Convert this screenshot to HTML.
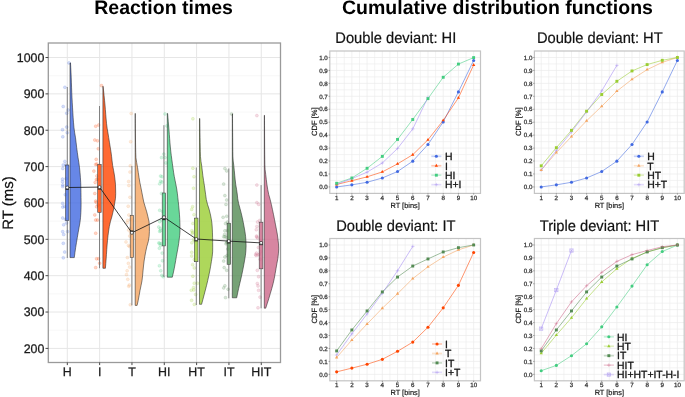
<!DOCTYPE html>
<html><head><meta charset="utf-8"><title>Reaction times and CDFs</title>
<style>html,body{margin:0;padding:0;background:#fff;}body{width:685px;height:397px;overflow:hidden;}svg{display:block;}</style>
</head><body>
<svg width="685" height="397" viewBox="0 0 685 397" text-rendering="geometricPrecision" font-family='"Liberation Sans", Arial, sans-serif'><rect x="48.3" y="43.0" width="232.2" height="319.5" fill="#fff"/>
<line x1="48.3" x2="280.5" y1="330.22" y2="330.22" stroke="#f1f1f1" stroke-width="0.6"/>
<line x1="48.3" x2="280.5" y1="293.86" y2="293.86" stroke="#f1f1f1" stroke-width="0.6"/>
<line x1="48.3" x2="280.5" y1="257.50" y2="257.50" stroke="#f1f1f1" stroke-width="0.6"/>
<line x1="48.3" x2="280.5" y1="221.14" y2="221.14" stroke="#f1f1f1" stroke-width="0.6"/>
<line x1="48.3" x2="280.5" y1="184.78" y2="184.78" stroke="#f1f1f1" stroke-width="0.6"/>
<line x1="48.3" x2="280.5" y1="148.42" y2="148.42" stroke="#f1f1f1" stroke-width="0.6"/>
<line x1="48.3" x2="280.5" y1="112.06" y2="112.06" stroke="#f1f1f1" stroke-width="0.6"/>
<line x1="48.3" x2="280.5" y1="75.70" y2="75.70" stroke="#f1f1f1" stroke-width="0.6"/>
<line x1="48.3" x2="280.5" y1="348.40" y2="348.40" stroke="#e6e6e6" stroke-width="1"/>
<line x1="48.3" x2="280.5" y1="312.04" y2="312.04" stroke="#e6e6e6" stroke-width="1"/>
<line x1="48.3" x2="280.5" y1="275.68" y2="275.68" stroke="#e6e6e6" stroke-width="1"/>
<line x1="48.3" x2="280.5" y1="239.32" y2="239.32" stroke="#e6e6e6" stroke-width="1"/>
<line x1="48.3" x2="280.5" y1="202.96" y2="202.96" stroke="#e6e6e6" stroke-width="1"/>
<line x1="48.3" x2="280.5" y1="166.60" y2="166.60" stroke="#e6e6e6" stroke-width="1"/>
<line x1="48.3" x2="280.5" y1="130.24" y2="130.24" stroke="#e6e6e6" stroke-width="1"/>
<line x1="48.3" x2="280.5" y1="93.88" y2="93.88" stroke="#e6e6e6" stroke-width="1"/>
<line x1="48.3" x2="280.5" y1="57.52" y2="57.52" stroke="#e6e6e6" stroke-width="1"/>
<line x1="67.30" x2="67.30" y1="43.0" y2="362.5" stroke="#e6e6e6" stroke-width="1"/>
<line x1="99.63" x2="99.63" y1="43.0" y2="362.5" stroke="#e6e6e6" stroke-width="1"/>
<line x1="131.96" x2="131.96" y1="43.0" y2="362.5" stroke="#e6e6e6" stroke-width="1"/>
<line x1="164.29" x2="164.29" y1="43.0" y2="362.5" stroke="#e6e6e6" stroke-width="1"/>
<line x1="196.62" x2="196.62" y1="43.0" y2="362.5" stroke="#e6e6e6" stroke-width="1"/>
<line x1="228.95" x2="228.95" y1="43.0" y2="362.5" stroke="#e6e6e6" stroke-width="1"/>
<line x1="261.28" x2="261.28" y1="43.0" y2="362.5" stroke="#e6e6e6" stroke-width="1"/>
<circle cx="69.0" cy="62.9" r="1.5" fill="#4169E1" fill-opacity="0.22" stroke="#4169E1" stroke-opacity="0.3" stroke-width="0.5"/>
<circle cx="64.9" cy="87.3" r="1.5" fill="#4169E1" fill-opacity="0.22" stroke="#4169E1" stroke-opacity="0.3" stroke-width="0.5"/>
<circle cx="63.2" cy="106.5" r="1.5" fill="#4169E1" fill-opacity="0.22" stroke="#4169E1" stroke-opacity="0.3" stroke-width="0.5"/>
<circle cx="68.1" cy="110.0" r="1.5" fill="#4169E1" fill-opacity="0.22" stroke="#4169E1" stroke-opacity="0.3" stroke-width="0.5"/>
<circle cx="66.7" cy="113.2" r="1.5" fill="#4169E1" fill-opacity="0.22" stroke="#4169E1" stroke-opacity="0.3" stroke-width="0.5"/>
<circle cx="62.5" cy="129.7" r="1.5" fill="#4169E1" fill-opacity="0.22" stroke="#4169E1" stroke-opacity="0.3" stroke-width="0.5"/>
<circle cx="66.7" cy="127.1" r="1.5" fill="#4169E1" fill-opacity="0.22" stroke="#4169E1" stroke-opacity="0.3" stroke-width="0.5"/>
<circle cx="67.2" cy="132.7" r="1.5" fill="#4169E1" fill-opacity="0.22" stroke="#4169E1" stroke-opacity="0.3" stroke-width="0.5"/>
<circle cx="62.8" cy="136.8" r="1.5" fill="#4169E1" fill-opacity="0.22" stroke="#4169E1" stroke-opacity="0.3" stroke-width="0.5"/>
<circle cx="64.9" cy="161.4" r="1.5" fill="#4169E1" fill-opacity="0.22" stroke="#4169E1" stroke-opacity="0.3" stroke-width="0.5"/>
<circle cx="63.2" cy="165.0" r="1.5" fill="#4169E1" fill-opacity="0.22" stroke="#4169E1" stroke-opacity="0.3" stroke-width="0.5"/>
<circle cx="62.8" cy="168.5" r="1.5" fill="#4169E1" fill-opacity="0.22" stroke="#4169E1" stroke-opacity="0.3" stroke-width="0.5"/>
<circle cx="62.5" cy="179.1" r="1.5" fill="#4169E1" fill-opacity="0.22" stroke="#4169E1" stroke-opacity="0.3" stroke-width="0.5"/>
<circle cx="62.5" cy="181.7" r="1.5" fill="#4169E1" fill-opacity="0.22" stroke="#4169E1" stroke-opacity="0.3" stroke-width="0.5"/>
<circle cx="62.8" cy="184.9" r="1.5" fill="#4169E1" fill-opacity="0.22" stroke="#4169E1" stroke-opacity="0.3" stroke-width="0.5"/>
<circle cx="62.7" cy="186.6" r="1.5" fill="#4169E1" fill-opacity="0.22" stroke="#4169E1" stroke-opacity="0.3" stroke-width="0.5"/>
<circle cx="65.3" cy="194.7" r="1.5" fill="#4169E1" fill-opacity="0.22" stroke="#4169E1" stroke-opacity="0.3" stroke-width="0.5"/>
<circle cx="62.7" cy="203.4" r="1.5" fill="#4169E1" fill-opacity="0.22" stroke="#4169E1" stroke-opacity="0.3" stroke-width="0.5"/>
<circle cx="64.7" cy="206.4" r="1.5" fill="#4169E1" fill-opacity="0.22" stroke="#4169E1" stroke-opacity="0.3" stroke-width="0.5"/>
<circle cx="62.7" cy="218.0" r="1.5" fill="#4169E1" fill-opacity="0.22" stroke="#4169E1" stroke-opacity="0.3" stroke-width="0.5"/>
<circle cx="63.7" cy="224.8" r="1.5" fill="#4169E1" fill-opacity="0.22" stroke="#4169E1" stroke-opacity="0.3" stroke-width="0.5"/>
<circle cx="66.6" cy="222.9" r="1.5" fill="#4169E1" fill-opacity="0.22" stroke="#4169E1" stroke-opacity="0.3" stroke-width="0.5"/>
<circle cx="62.7" cy="231.6" r="1.5" fill="#4169E1" fill-opacity="0.22" stroke="#4169E1" stroke-opacity="0.3" stroke-width="0.5"/>
<circle cx="63.7" cy="234.5" r="1.5" fill="#4169E1" fill-opacity="0.22" stroke="#4169E1" stroke-opacity="0.3" stroke-width="0.5"/>
<circle cx="63.3" cy="243.3" r="1.5" fill="#4169E1" fill-opacity="0.22" stroke="#4169E1" stroke-opacity="0.3" stroke-width="0.5"/>
<circle cx="64.7" cy="252.0" r="1.5" fill="#4169E1" fill-opacity="0.22" stroke="#4169E1" stroke-opacity="0.3" stroke-width="0.5"/>
<circle cx="63.3" cy="257.8" r="1.5" fill="#4169E1" fill-opacity="0.22" stroke="#4169E1" stroke-opacity="0.3" stroke-width="0.5"/>
<circle cx="67.6" cy="231.6" r="1.5" fill="#4169E1" fill-opacity="0.22" stroke="#4169E1" stroke-opacity="0.3" stroke-width="0.5"/>
<circle cx="65.6" cy="219.2" r="1.5" fill="#4169E1" fill-opacity="0.22" stroke="#4169E1" stroke-opacity="0.3" stroke-width="0.5"/>
<circle cx="66.1" cy="178.7" r="1.5" fill="#4169E1" fill-opacity="0.22" stroke="#4169E1" stroke-opacity="0.3" stroke-width="0.5"/>
<circle cx="65.7" cy="164.9" r="1.5" fill="#4169E1" fill-opacity="0.22" stroke="#4169E1" stroke-opacity="0.3" stroke-width="0.5"/>
<circle cx="62.8" cy="207.1" r="1.5" fill="#4169E1" fill-opacity="0.22" stroke="#4169E1" stroke-opacity="0.3" stroke-width="0.5"/>
<circle cx="101.5" cy="85.6" r="1.5" fill="#FF4500" fill-opacity="0.22" stroke="#FF4500" stroke-opacity="0.3" stroke-width="0.5"/>
<circle cx="95.7" cy="126.2" r="1.5" fill="#FF4500" fill-opacity="0.22" stroke="#FF4500" stroke-opacity="0.3" stroke-width="0.5"/>
<circle cx="98.7" cy="125.0" r="1.5" fill="#FF4500" fill-opacity="0.22" stroke="#FF4500" stroke-opacity="0.3" stroke-width="0.5"/>
<circle cx="94.8" cy="140.0" r="1.5" fill="#FF4500" fill-opacity="0.22" stroke="#FF4500" stroke-opacity="0.3" stroke-width="0.5"/>
<circle cx="97.5" cy="140.8" r="1.5" fill="#FF4500" fill-opacity="0.22" stroke="#FF4500" stroke-opacity="0.3" stroke-width="0.5"/>
<circle cx="98.3" cy="148.8" r="1.5" fill="#FF4500" fill-opacity="0.22" stroke="#FF4500" stroke-opacity="0.3" stroke-width="0.5"/>
<circle cx="95.7" cy="164.4" r="1.5" fill="#FF4500" fill-opacity="0.22" stroke="#FF4500" stroke-opacity="0.3" stroke-width="0.5"/>
<circle cx="96.9" cy="164.0" r="1.5" fill="#FF4500" fill-opacity="0.22" stroke="#FF4500" stroke-opacity="0.3" stroke-width="0.5"/>
<circle cx="96.9" cy="175.9" r="1.5" fill="#FF4500" fill-opacity="0.22" stroke="#FF4500" stroke-opacity="0.3" stroke-width="0.5"/>
<circle cx="95.2" cy="182.4" r="1.5" fill="#FF4500" fill-opacity="0.22" stroke="#FF4500" stroke-opacity="0.3" stroke-width="0.5"/>
<circle cx="94.8" cy="193.5" r="1.5" fill="#FF4500" fill-opacity="0.22" stroke="#FF4500" stroke-opacity="0.3" stroke-width="0.5"/>
<circle cx="95.7" cy="201.1" r="1.5" fill="#FF4500" fill-opacity="0.22" stroke="#FF4500" stroke-opacity="0.3" stroke-width="0.5"/>
<circle cx="96.2" cy="202.3" r="1.5" fill="#FF4500" fill-opacity="0.22" stroke="#FF4500" stroke-opacity="0.3" stroke-width="0.5"/>
<circle cx="96.6" cy="206.7" r="1.5" fill="#FF4500" fill-opacity="0.22" stroke="#FF4500" stroke-opacity="0.3" stroke-width="0.5"/>
<circle cx="97.5" cy="179.4" r="1.5" fill="#FF4500" fill-opacity="0.22" stroke="#FF4500" stroke-opacity="0.3" stroke-width="0.5"/>
<circle cx="95.7" cy="220.0" r="1.5" fill="#FF4500" fill-opacity="0.22" stroke="#FF4500" stroke-opacity="0.3" stroke-width="0.5"/>
<circle cx="97.5" cy="220.0" r="1.5" fill="#FF4500" fill-opacity="0.22" stroke="#FF4500" stroke-opacity="0.3" stroke-width="0.5"/>
<circle cx="95.7" cy="233.2" r="1.5" fill="#FF4500" fill-opacity="0.22" stroke="#FF4500" stroke-opacity="0.3" stroke-width="0.5"/>
<circle cx="96.6" cy="258.8" r="1.5" fill="#FF4500" fill-opacity="0.22" stroke="#FF4500" stroke-opacity="0.3" stroke-width="0.5"/>
<circle cx="98.7" cy="258.8" r="1.5" fill="#FF4500" fill-opacity="0.22" stroke="#FF4500" stroke-opacity="0.3" stroke-width="0.5"/>
<circle cx="95.7" cy="267.6" r="1.5" fill="#FF4500" fill-opacity="0.22" stroke="#FF4500" stroke-opacity="0.3" stroke-width="0.5"/>
<circle cx="99.6" cy="263.2" r="1.5" fill="#FF4500" fill-opacity="0.22" stroke="#FF4500" stroke-opacity="0.3" stroke-width="0.5"/>
<circle cx="96.4" cy="179.5" r="1.5" fill="#FF4500" fill-opacity="0.22" stroke="#FF4500" stroke-opacity="0.3" stroke-width="0.5"/>
<circle cx="98.0" cy="205.0" r="1.5" fill="#FF4500" fill-opacity="0.22" stroke="#FF4500" stroke-opacity="0.3" stroke-width="0.5"/>
<circle cx="94.8" cy="214.9" r="1.5" fill="#FF4500" fill-opacity="0.22" stroke="#FF4500" stroke-opacity="0.3" stroke-width="0.5"/>
<circle cx="93.9" cy="171.1" r="1.5" fill="#FF4500" fill-opacity="0.22" stroke="#FF4500" stroke-opacity="0.3" stroke-width="0.5"/>
<circle cx="96.2" cy="159.3" r="1.5" fill="#FF4500" fill-opacity="0.22" stroke="#FF4500" stroke-opacity="0.3" stroke-width="0.5"/>
<circle cx="131.2" cy="113.5" r="1.5" fill="#F4A460" fill-opacity="0.22" stroke="#F4A460" stroke-opacity="0.3" stroke-width="0.5"/>
<circle cx="130.7" cy="141.7" r="1.5" fill="#F4A460" fill-opacity="0.22" stroke="#F4A460" stroke-opacity="0.3" stroke-width="0.5"/>
<circle cx="130.3" cy="165.8" r="1.5" fill="#F4A460" fill-opacity="0.22" stroke="#F4A460" stroke-opacity="0.3" stroke-width="0.5"/>
<circle cx="130.0" cy="172.0" r="1.5" fill="#F4A460" fill-opacity="0.22" stroke="#F4A460" stroke-opacity="0.3" stroke-width="0.5"/>
<circle cx="128.6" cy="181.5" r="1.5" fill="#F4A460" fill-opacity="0.22" stroke="#F4A460" stroke-opacity="0.3" stroke-width="0.5"/>
<circle cx="128.9" cy="185.5" r="1.5" fill="#F4A460" fill-opacity="0.22" stroke="#F4A460" stroke-opacity="0.3" stroke-width="0.5"/>
<circle cx="130.0" cy="197.3" r="1.5" fill="#F4A460" fill-opacity="0.22" stroke="#F4A460" stroke-opacity="0.3" stroke-width="0.5"/>
<circle cx="128.2" cy="206.2" r="1.5" fill="#F4A460" fill-opacity="0.22" stroke="#F4A460" stroke-opacity="0.3" stroke-width="0.5"/>
<circle cx="128.9" cy="215.0" r="1.5" fill="#F4A460" fill-opacity="0.22" stroke="#F4A460" stroke-opacity="0.3" stroke-width="0.5"/>
<circle cx="127.7" cy="220.3" r="1.5" fill="#F4A460" fill-opacity="0.22" stroke="#F4A460" stroke-opacity="0.3" stroke-width="0.5"/>
<circle cx="128.6" cy="230.0" r="1.5" fill="#F4A460" fill-opacity="0.22" stroke="#F4A460" stroke-opacity="0.3" stroke-width="0.5"/>
<circle cx="130.3" cy="228.2" r="1.5" fill="#F4A460" fill-opacity="0.22" stroke="#F4A460" stroke-opacity="0.3" stroke-width="0.5"/>
<circle cx="128.4" cy="245.4" r="1.5" fill="#F4A460" fill-opacity="0.22" stroke="#F4A460" stroke-opacity="0.3" stroke-width="0.5"/>
<circle cx="127.4" cy="257.6" r="1.5" fill="#F4A460" fill-opacity="0.22" stroke="#F4A460" stroke-opacity="0.3" stroke-width="0.5"/>
<circle cx="128.4" cy="263.3" r="1.5" fill="#F4A460" fill-opacity="0.22" stroke="#F4A460" stroke-opacity="0.3" stroke-width="0.5"/>
<circle cx="129.7" cy="267.1" r="1.5" fill="#F4A460" fill-opacity="0.22" stroke="#F4A460" stroke-opacity="0.3" stroke-width="0.5"/>
<circle cx="127.1" cy="270.8" r="1.5" fill="#F4A460" fill-opacity="0.22" stroke="#F4A460" stroke-opacity="0.3" stroke-width="0.5"/>
<circle cx="126.5" cy="274.6" r="1.5" fill="#F4A460" fill-opacity="0.22" stroke="#F4A460" stroke-opacity="0.3" stroke-width="0.5"/>
<circle cx="127.8" cy="279.3" r="1.5" fill="#F4A460" fill-opacity="0.22" stroke="#F4A460" stroke-opacity="0.3" stroke-width="0.5"/>
<circle cx="129.3" cy="285.0" r="1.5" fill="#F4A460" fill-opacity="0.22" stroke="#F4A460" stroke-opacity="0.3" stroke-width="0.5"/>
<circle cx="130.3" cy="304.8" r="1.5" fill="#F4A460" fill-opacity="0.22" stroke="#F4A460" stroke-opacity="0.3" stroke-width="0.5"/>
<circle cx="129.7" cy="236.0" r="1.5" fill="#F4A460" fill-opacity="0.22" stroke="#F4A460" stroke-opacity="0.3" stroke-width="0.5"/>
<circle cx="128.8" cy="286.3" r="1.5" fill="#F4A460" fill-opacity="0.22" stroke="#F4A460" stroke-opacity="0.3" stroke-width="0.5"/>
<circle cx="126.0" cy="241.9" r="1.5" fill="#F4A460" fill-opacity="0.22" stroke="#F4A460" stroke-opacity="0.3" stroke-width="0.5"/>
<circle cx="127.1" cy="222.7" r="1.5" fill="#F4A460" fill-opacity="0.22" stroke="#F4A460" stroke-opacity="0.3" stroke-width="0.5"/>
<circle cx="130.5" cy="232.6" r="1.5" fill="#F4A460" fill-opacity="0.22" stroke="#F4A460" stroke-opacity="0.3" stroke-width="0.5"/>
<circle cx="130.8" cy="219.5" r="1.5" fill="#F4A460" fill-opacity="0.22" stroke="#F4A460" stroke-opacity="0.3" stroke-width="0.5"/>
<circle cx="129.5" cy="246.4" r="1.5" fill="#F4A460" fill-opacity="0.22" stroke="#F4A460" stroke-opacity="0.3" stroke-width="0.5"/>
<circle cx="165.0" cy="113.9" r="1.5" fill="#43CD80" fill-opacity="0.22" stroke="#43CD80" stroke-opacity="0.3" stroke-width="0.5"/>
<circle cx="166.8" cy="125.9" r="1.5" fill="#43CD80" fill-opacity="0.22" stroke="#43CD80" stroke-opacity="0.3" stroke-width="0.5"/>
<circle cx="163.8" cy="154.1" r="1.5" fill="#43CD80" fill-opacity="0.22" stroke="#43CD80" stroke-opacity="0.3" stroke-width="0.5"/>
<circle cx="161.5" cy="157.6" r="1.5" fill="#43CD80" fill-opacity="0.22" stroke="#43CD80" stroke-opacity="0.3" stroke-width="0.5"/>
<circle cx="165.0" cy="157.6" r="1.5" fill="#43CD80" fill-opacity="0.22" stroke="#43CD80" stroke-opacity="0.3" stroke-width="0.5"/>
<circle cx="165.9" cy="162.9" r="1.5" fill="#43CD80" fill-opacity="0.22" stroke="#43CD80" stroke-opacity="0.3" stroke-width="0.5"/>
<circle cx="160.6" cy="176.1" r="1.5" fill="#43CD80" fill-opacity="0.22" stroke="#43CD80" stroke-opacity="0.3" stroke-width="0.5"/>
<circle cx="162.0" cy="176.7" r="1.5" fill="#43CD80" fill-opacity="0.22" stroke="#43CD80" stroke-opacity="0.3" stroke-width="0.5"/>
<circle cx="160.6" cy="181.2" r="1.5" fill="#43CD80" fill-opacity="0.22" stroke="#43CD80" stroke-opacity="0.3" stroke-width="0.5"/>
<circle cx="162.0" cy="182.0" r="1.5" fill="#43CD80" fill-opacity="0.22" stroke="#43CD80" stroke-opacity="0.3" stroke-width="0.5"/>
<circle cx="159.7" cy="183.8" r="1.5" fill="#43CD80" fill-opacity="0.22" stroke="#43CD80" stroke-opacity="0.3" stroke-width="0.5"/>
<circle cx="161.5" cy="193.5" r="1.5" fill="#43CD80" fill-opacity="0.22" stroke="#43CD80" stroke-opacity="0.3" stroke-width="0.5"/>
<circle cx="159.7" cy="210.3" r="1.5" fill="#43CD80" fill-opacity="0.22" stroke="#43CD80" stroke-opacity="0.3" stroke-width="0.5"/>
<circle cx="159.7" cy="221.7" r="1.5" fill="#43CD80" fill-opacity="0.22" stroke="#43CD80" stroke-opacity="0.3" stroke-width="0.5"/>
<circle cx="158.8" cy="227.0" r="1.5" fill="#43CD80" fill-opacity="0.22" stroke="#43CD80" stroke-opacity="0.3" stroke-width="0.5"/>
<circle cx="159.7" cy="231.4" r="1.5" fill="#43CD80" fill-opacity="0.22" stroke="#43CD80" stroke-opacity="0.3" stroke-width="0.5"/>
<circle cx="158.8" cy="242.9" r="1.5" fill="#43CD80" fill-opacity="0.22" stroke="#43CD80" stroke-opacity="0.3" stroke-width="0.5"/>
<circle cx="159.7" cy="243.3" r="1.5" fill="#43CD80" fill-opacity="0.22" stroke="#43CD80" stroke-opacity="0.3" stroke-width="0.5"/>
<circle cx="160.4" cy="245.4" r="1.5" fill="#43CD80" fill-opacity="0.22" stroke="#43CD80" stroke-opacity="0.3" stroke-width="0.5"/>
<circle cx="159.4" cy="248.2" r="1.5" fill="#43CD80" fill-opacity="0.22" stroke="#43CD80" stroke-opacity="0.3" stroke-width="0.5"/>
<circle cx="162.2" cy="253.1" r="1.5" fill="#43CD80" fill-opacity="0.22" stroke="#43CD80" stroke-opacity="0.3" stroke-width="0.5"/>
<circle cx="162.5" cy="260.7" r="1.5" fill="#43CD80" fill-opacity="0.22" stroke="#43CD80" stroke-opacity="0.3" stroke-width="0.5"/>
<circle cx="159.4" cy="265.8" r="1.5" fill="#43CD80" fill-opacity="0.22" stroke="#43CD80" stroke-opacity="0.3" stroke-width="0.5"/>
<circle cx="160.8" cy="270.8" r="1.5" fill="#43CD80" fill-opacity="0.22" stroke="#43CD80" stroke-opacity="0.3" stroke-width="0.5"/>
<circle cx="161.8" cy="275.3" r="1.5" fill="#43CD80" fill-opacity="0.22" stroke="#43CD80" stroke-opacity="0.3" stroke-width="0.5"/>
<circle cx="163.2" cy="276.7" r="1.5" fill="#43CD80" fill-opacity="0.22" stroke="#43CD80" stroke-opacity="0.3" stroke-width="0.5"/>
<circle cx="161.3" cy="243.8" r="1.5" fill="#43CD80" fill-opacity="0.22" stroke="#43CD80" stroke-opacity="0.3" stroke-width="0.5"/>
<circle cx="160.3" cy="228.7" r="1.5" fill="#43CD80" fill-opacity="0.22" stroke="#43CD80" stroke-opacity="0.3" stroke-width="0.5"/>
<circle cx="160.4" cy="230.7" r="1.5" fill="#43CD80" fill-opacity="0.22" stroke="#43CD80" stroke-opacity="0.3" stroke-width="0.5"/>
<circle cx="162.8" cy="211.5" r="1.5" fill="#43CD80" fill-opacity="0.22" stroke="#43CD80" stroke-opacity="0.3" stroke-width="0.5"/>
<circle cx="161.5" cy="219.8" r="1.5" fill="#43CD80" fill-opacity="0.22" stroke="#43CD80" stroke-opacity="0.3" stroke-width="0.5"/>
<circle cx="192.9" cy="118.8" r="1.5" fill="#9ACD32" fill-opacity="0.22" stroke="#9ACD32" stroke-opacity="0.3" stroke-width="0.5"/>
<circle cx="192.9" cy="168.2" r="1.5" fill="#9ACD32" fill-opacity="0.22" stroke="#9ACD32" stroke-opacity="0.3" stroke-width="0.5"/>
<circle cx="194.0" cy="176.7" r="1.5" fill="#9ACD32" fill-opacity="0.22" stroke="#9ACD32" stroke-opacity="0.3" stroke-width="0.5"/>
<circle cx="193.5" cy="188.2" r="1.5" fill="#9ACD32" fill-opacity="0.22" stroke="#9ACD32" stroke-opacity="0.3" stroke-width="0.5"/>
<circle cx="192.6" cy="206.7" r="1.5" fill="#9ACD32" fill-opacity="0.22" stroke="#9ACD32" stroke-opacity="0.3" stroke-width="0.5"/>
<circle cx="191.7" cy="209.4" r="1.5" fill="#9ACD32" fill-opacity="0.22" stroke="#9ACD32" stroke-opacity="0.3" stroke-width="0.5"/>
<circle cx="194.0" cy="214.7" r="1.5" fill="#9ACD32" fill-opacity="0.22" stroke="#9ACD32" stroke-opacity="0.3" stroke-width="0.5"/>
<circle cx="192.9" cy="223.5" r="1.5" fill="#9ACD32" fill-opacity="0.22" stroke="#9ACD32" stroke-opacity="0.3" stroke-width="0.5"/>
<circle cx="192.6" cy="232.3" r="1.5" fill="#9ACD32" fill-opacity="0.22" stroke="#9ACD32" stroke-opacity="0.3" stroke-width="0.5"/>
<circle cx="193.5" cy="239.4" r="1.5" fill="#9ACD32" fill-opacity="0.22" stroke="#9ACD32" stroke-opacity="0.3" stroke-width="0.5"/>
<circle cx="194.7" cy="240.9" r="1.5" fill="#9ACD32" fill-opacity="0.22" stroke="#9ACD32" stroke-opacity="0.3" stroke-width="0.5"/>
<circle cx="191.7" cy="255.9" r="1.5" fill="#9ACD32" fill-opacity="0.22" stroke="#9ACD32" stroke-opacity="0.3" stroke-width="0.5"/>
<circle cx="192.6" cy="264.7" r="1.5" fill="#9ACD32" fill-opacity="0.22" stroke="#9ACD32" stroke-opacity="0.3" stroke-width="0.5"/>
<circle cx="194.3" cy="267.9" r="1.5" fill="#9ACD32" fill-opacity="0.22" stroke="#9ACD32" stroke-opacity="0.3" stroke-width="0.5"/>
<circle cx="192.9" cy="276.2" r="1.5" fill="#9ACD32" fill-opacity="0.22" stroke="#9ACD32" stroke-opacity="0.3" stroke-width="0.5"/>
<circle cx="194.3" cy="283.2" r="1.5" fill="#9ACD32" fill-opacity="0.22" stroke="#9ACD32" stroke-opacity="0.3" stroke-width="0.5"/>
<circle cx="193.5" cy="287.6" r="1.5" fill="#9ACD32" fill-opacity="0.22" stroke="#9ACD32" stroke-opacity="0.3" stroke-width="0.5"/>
<circle cx="197.5" cy="283.2" r="1.5" fill="#9ACD32" fill-opacity="0.22" stroke="#9ACD32" stroke-opacity="0.3" stroke-width="0.5"/>
<circle cx="194.3" cy="304.4" r="1.5" fill="#9ACD32" fill-opacity="0.22" stroke="#9ACD32" stroke-opacity="0.3" stroke-width="0.5"/>
<circle cx="194.3" cy="259.6" r="1.5" fill="#9ACD32" fill-opacity="0.22" stroke="#9ACD32" stroke-opacity="0.3" stroke-width="0.5"/>
<circle cx="191.9" cy="230.7" r="1.5" fill="#9ACD32" fill-opacity="0.22" stroke="#9ACD32" stroke-opacity="0.3" stroke-width="0.5"/>
<circle cx="195.9" cy="238.9" r="1.5" fill="#9ACD32" fill-opacity="0.22" stroke="#9ACD32" stroke-opacity="0.3" stroke-width="0.5"/>
<circle cx="192.3" cy="233.6" r="1.5" fill="#9ACD32" fill-opacity="0.22" stroke="#9ACD32" stroke-opacity="0.3" stroke-width="0.5"/>
<circle cx="191.3" cy="290.2" r="1.5" fill="#9ACD32" fill-opacity="0.22" stroke="#9ACD32" stroke-opacity="0.3" stroke-width="0.5"/>
<circle cx="195.6" cy="294.5" r="1.5" fill="#9ACD32" fill-opacity="0.22" stroke="#9ACD32" stroke-opacity="0.3" stroke-width="0.5"/>
<circle cx="191.7" cy="252.2" r="1.5" fill="#9ACD32" fill-opacity="0.22" stroke="#9ACD32" stroke-opacity="0.3" stroke-width="0.5"/>
<circle cx="191.6" cy="300.3" r="1.5" fill="#9ACD32" fill-opacity="0.22" stroke="#9ACD32" stroke-opacity="0.3" stroke-width="0.5"/>
<circle cx="193.8" cy="289.9" r="1.5" fill="#9ACD32" fill-opacity="0.22" stroke="#9ACD32" stroke-opacity="0.3" stroke-width="0.5"/>
<circle cx="191.9" cy="242.8" r="1.5" fill="#9ACD32" fill-opacity="0.22" stroke="#9ACD32" stroke-opacity="0.3" stroke-width="0.5"/>
<circle cx="231.5" cy="113.9" r="1.5" fill="#548B54" fill-opacity="0.22" stroke="#548B54" stroke-opacity="0.3" stroke-width="0.5"/>
<circle cx="224.9" cy="168.5" r="1.5" fill="#548B54" fill-opacity="0.22" stroke="#548B54" stroke-opacity="0.3" stroke-width="0.5"/>
<circle cx="226.7" cy="170.9" r="1.5" fill="#548B54" fill-opacity="0.22" stroke="#548B54" stroke-opacity="0.3" stroke-width="0.5"/>
<circle cx="223.7" cy="184.1" r="1.5" fill="#548B54" fill-opacity="0.22" stroke="#548B54" stroke-opacity="0.3" stroke-width="0.5"/>
<circle cx="224.9" cy="195.6" r="1.5" fill="#548B54" fill-opacity="0.22" stroke="#548B54" stroke-opacity="0.3" stroke-width="0.5"/>
<circle cx="226.7" cy="200.0" r="1.5" fill="#548B54" fill-opacity="0.22" stroke="#548B54" stroke-opacity="0.3" stroke-width="0.5"/>
<circle cx="226.0" cy="204.4" r="1.5" fill="#548B54" fill-opacity="0.22" stroke="#548B54" stroke-opacity="0.3" stroke-width="0.5"/>
<circle cx="226.7" cy="216.2" r="1.5" fill="#548B54" fill-opacity="0.22" stroke="#548B54" stroke-opacity="0.3" stroke-width="0.5"/>
<circle cx="224.9" cy="230.8" r="1.5" fill="#548B54" fill-opacity="0.22" stroke="#548B54" stroke-opacity="0.3" stroke-width="0.5"/>
<circle cx="224.6" cy="234.4" r="1.5" fill="#548B54" fill-opacity="0.22" stroke="#548B54" stroke-opacity="0.3" stroke-width="0.5"/>
<circle cx="223.7" cy="236.7" r="1.5" fill="#548B54" fill-opacity="0.22" stroke="#548B54" stroke-opacity="0.3" stroke-width="0.5"/>
<circle cx="224.9" cy="236.8" r="1.5" fill="#548B54" fill-opacity="0.22" stroke="#548B54" stroke-opacity="0.3" stroke-width="0.5"/>
<circle cx="226.0" cy="243.8" r="1.5" fill="#548B54" fill-opacity="0.22" stroke="#548B54" stroke-opacity="0.3" stroke-width="0.5"/>
<circle cx="224.9" cy="257.0" r="1.5" fill="#548B54" fill-opacity="0.22" stroke="#548B54" stroke-opacity="0.3" stroke-width="0.5"/>
<circle cx="223.7" cy="261.1" r="1.5" fill="#548B54" fill-opacity="0.22" stroke="#548B54" stroke-opacity="0.3" stroke-width="0.5"/>
<circle cx="224.2" cy="267.6" r="1.5" fill="#548B54" fill-opacity="0.22" stroke="#548B54" stroke-opacity="0.3" stroke-width="0.5"/>
<circle cx="226.7" cy="270.3" r="1.5" fill="#548B54" fill-opacity="0.22" stroke="#548B54" stroke-opacity="0.3" stroke-width="0.5"/>
<circle cx="224.9" cy="285.8" r="1.5" fill="#548B54" fill-opacity="0.22" stroke="#548B54" stroke-opacity="0.3" stroke-width="0.5"/>
<circle cx="223.7" cy="287.9" r="1.5" fill="#548B54" fill-opacity="0.22" stroke="#548B54" stroke-opacity="0.3" stroke-width="0.5"/>
<circle cx="225.5" cy="297.6" r="1.5" fill="#548B54" fill-opacity="0.22" stroke="#548B54" stroke-opacity="0.3" stroke-width="0.5"/>
<circle cx="225.5" cy="223.6" r="1.5" fill="#548B54" fill-opacity="0.22" stroke="#548B54" stroke-opacity="0.3" stroke-width="0.5"/>
<circle cx="227.1" cy="255.4" r="1.5" fill="#548B54" fill-opacity="0.22" stroke="#548B54" stroke-opacity="0.3" stroke-width="0.5"/>
<circle cx="223.1" cy="217.3" r="1.5" fill="#548B54" fill-opacity="0.22" stroke="#548B54" stroke-opacity="0.3" stroke-width="0.5"/>
<circle cx="226.6" cy="237.3" r="1.5" fill="#548B54" fill-opacity="0.22" stroke="#548B54" stroke-opacity="0.3" stroke-width="0.5"/>
<circle cx="227.8" cy="249.1" r="1.5" fill="#548B54" fill-opacity="0.22" stroke="#548B54" stroke-opacity="0.3" stroke-width="0.5"/>
<circle cx="226.7" cy="242.6" r="1.5" fill="#548B54" fill-opacity="0.22" stroke="#548B54" stroke-opacity="0.3" stroke-width="0.5"/>
<circle cx="227.2" cy="242.0" r="1.5" fill="#548B54" fill-opacity="0.22" stroke="#548B54" stroke-opacity="0.3" stroke-width="0.5"/>
<circle cx="228.1" cy="289.2" r="1.5" fill="#548B54" fill-opacity="0.22" stroke="#548B54" stroke-opacity="0.3" stroke-width="0.5"/>
<circle cx="227.4" cy="222.1" r="1.5" fill="#548B54" fill-opacity="0.22" stroke="#548B54" stroke-opacity="0.3" stroke-width="0.5"/>
<circle cx="227.4" cy="230.4" r="1.5" fill="#548B54" fill-opacity="0.22" stroke="#548B54" stroke-opacity="0.3" stroke-width="0.5"/>
<circle cx="256.9" cy="115.6" r="1.5" fill="#CD6889" fill-opacity="0.22" stroke="#CD6889" stroke-opacity="0.3" stroke-width="0.5"/>
<circle cx="256.9" cy="185.0" r="1.5" fill="#CD6889" fill-opacity="0.22" stroke="#CD6889" stroke-opacity="0.3" stroke-width="0.5"/>
<circle cx="256.9" cy="202.6" r="1.5" fill="#CD6889" fill-opacity="0.22" stroke="#CD6889" stroke-opacity="0.3" stroke-width="0.5"/>
<circle cx="258.7" cy="204.4" r="1.5" fill="#CD6889" fill-opacity="0.22" stroke="#CD6889" stroke-opacity="0.3" stroke-width="0.5"/>
<circle cx="257.5" cy="222.0" r="1.5" fill="#CD6889" fill-opacity="0.22" stroke="#CD6889" stroke-opacity="0.3" stroke-width="0.5"/>
<circle cx="256.9" cy="226.4" r="1.5" fill="#CD6889" fill-opacity="0.22" stroke="#CD6889" stroke-opacity="0.3" stroke-width="0.5"/>
<circle cx="256.6" cy="236.1" r="1.5" fill="#CD6889" fill-opacity="0.22" stroke="#CD6889" stroke-opacity="0.3" stroke-width="0.5"/>
<circle cx="257.5" cy="237.9" r="1.5" fill="#CD6889" fill-opacity="0.22" stroke="#CD6889" stroke-opacity="0.3" stroke-width="0.5"/>
<circle cx="256.7" cy="236.9" r="1.5" fill="#CD6889" fill-opacity="0.22" stroke="#CD6889" stroke-opacity="0.3" stroke-width="0.5"/>
<circle cx="256.1" cy="255.4" r="1.5" fill="#CD6889" fill-opacity="0.22" stroke="#CD6889" stroke-opacity="0.3" stroke-width="0.5"/>
<circle cx="257.3" cy="270.3" r="1.5" fill="#CD6889" fill-opacity="0.22" stroke="#CD6889" stroke-opacity="0.3" stroke-width="0.5"/>
<circle cx="258.6" cy="276.7" r="1.5" fill="#CD6889" fill-opacity="0.22" stroke="#CD6889" stroke-opacity="0.3" stroke-width="0.5"/>
<circle cx="257.3" cy="283.5" r="1.5" fill="#CD6889" fill-opacity="0.22" stroke="#CD6889" stroke-opacity="0.3" stroke-width="0.5"/>
<circle cx="258.0" cy="285.9" r="1.5" fill="#CD6889" fill-opacity="0.22" stroke="#CD6889" stroke-opacity="0.3" stroke-width="0.5"/>
<circle cx="258.6" cy="290.3" r="1.5" fill="#CD6889" fill-opacity="0.22" stroke="#CD6889" stroke-opacity="0.3" stroke-width="0.5"/>
<circle cx="260.0" cy="297.1" r="1.5" fill="#CD6889" fill-opacity="0.22" stroke="#CD6889" stroke-opacity="0.3" stroke-width="0.5"/>
<circle cx="258.0" cy="307.8" r="1.5" fill="#CD6889" fill-opacity="0.22" stroke="#CD6889" stroke-opacity="0.3" stroke-width="0.5"/>
<circle cx="259.6" cy="220.5" r="1.5" fill="#CD6889" fill-opacity="0.22" stroke="#CD6889" stroke-opacity="0.3" stroke-width="0.5"/>
<circle cx="256.5" cy="253.1" r="1.5" fill="#CD6889" fill-opacity="0.22" stroke="#CD6889" stroke-opacity="0.3" stroke-width="0.5"/>
<circle cx="256.3" cy="229.7" r="1.5" fill="#CD6889" fill-opacity="0.22" stroke="#CD6889" stroke-opacity="0.3" stroke-width="0.5"/>
<circle cx="258.4" cy="247.5" r="1.5" fill="#CD6889" fill-opacity="0.22" stroke="#CD6889" stroke-opacity="0.3" stroke-width="0.5"/>
<circle cx="260.5" cy="240.5" r="1.5" fill="#CD6889" fill-opacity="0.22" stroke="#CD6889" stroke-opacity="0.3" stroke-width="0.5"/>
<circle cx="258.1" cy="254.9" r="1.5" fill="#CD6889" fill-opacity="0.22" stroke="#CD6889" stroke-opacity="0.3" stroke-width="0.5"/>
<circle cx="259.4" cy="254.3" r="1.5" fill="#CD6889" fill-opacity="0.22" stroke="#CD6889" stroke-opacity="0.3" stroke-width="0.5"/>
<circle cx="260.1" cy="259.3" r="1.5" fill="#CD6889" fill-opacity="0.22" stroke="#CD6889" stroke-opacity="0.3" stroke-width="0.5"/>
<circle cx="255.7" cy="254.5" r="1.5" fill="#CD6889" fill-opacity="0.22" stroke="#CD6889" stroke-opacity="0.3" stroke-width="0.5"/>
<circle cx="260.5" cy="251.6" r="1.5" fill="#CD6889" fill-opacity="0.22" stroke="#CD6889" stroke-opacity="0.3" stroke-width="0.5"/>
<path d="M70.00,62.90 L70.50,62.90 L70.78,67.89 L71.03,72.88 L71.24,77.88 L71.42,82.87 L71.59,87.86 L71.78,92.85 L72.01,97.85 L72.26,102.84 L72.55,107.83 L72.85,112.82 L73.17,117.82 L73.54,122.81 L73.99,127.80 L74.67,132.79 L75.53,137.78 L76.14,142.78 L76.71,147.77 L77.37,152.76 L78.08,157.75 L78.86,162.75 L79.53,167.74 L80.04,172.73 L80.42,177.72 L80.71,182.72 L80.87,187.71 L80.97,192.70 L81.04,197.69 L81.09,202.68 L81.06,207.68 L80.87,212.67 L80.52,217.66 L79.95,222.65 L79.03,227.65 L78.15,232.64 L77.30,237.63 L76.47,242.62 L75.66,247.62 L74.94,252.61 L74.30,257.60 L70.00,257.60 Z" fill="#4169E1" fill-opacity="0.8" stroke="#222" stroke-width="0.55" stroke-linejoin="round"/>
<path d="M102.90,86.30 L103.10,86.30 L103.60,90.97 L104.09,95.63 L104.55,100.30 L105.00,104.97 L105.39,109.63 L105.74,114.30 L106.11,118.97 L106.55,123.63 L107.17,128.30 L107.96,132.97 L108.71,137.63 L109.45,142.30 L110.20,146.97 L110.96,151.63 L111.57,156.30 L112.09,160.97 L112.70,165.63 L113.57,170.30 L114.40,174.97 L115.03,179.63 L115.47,184.30 L115.62,188.97 L115.70,193.63 L115.49,198.30 L114.75,202.97 L113.93,207.63 L112.93,212.30 L111.79,216.97 L110.42,221.63 L109.36,226.30 L108.62,230.97 L108.02,235.63 L107.52,240.30 L107.10,244.97 L106.76,249.63 L106.46,254.30 L106.13,258.97 L105.77,263.63 L105.40,268.30 L102.90,268.30 Z" fill="#FF4500" fill-opacity="0.8" stroke="#222" stroke-width="0.55" stroke-linejoin="round"/>
<path d="M135.20,113.40 L135.30,113.40 L135.31,118.32 L135.33,123.25 L135.37,128.17 L135.42,133.09 L135.48,138.02 L135.54,142.94 L135.62,147.86 L135.74,152.78 L135.93,157.71 L136.66,162.63 L137.55,167.55 L138.28,172.48 L139.00,177.40 L139.83,182.32 L140.85,187.25 L141.82,192.17 L142.78,197.09 L143.76,202.02 L145.23,206.94 L146.72,211.86 L147.95,216.78 L149.04,221.71 L149.40,226.63 L149.40,231.55 L149.12,236.48 L148.32,241.40 L146.90,246.32 L145.80,251.25 L144.90,256.17 L144.10,261.09 L143.51,266.02 L143.01,270.94 L142.56,275.86 L141.99,280.78 L141.01,285.71 L139.98,290.63 L139.12,295.55 L138.20,300.48 L137.10,305.40 L135.20,305.40 Z" fill="#F4A460" fill-opacity="0.8" stroke="#222" stroke-width="0.55" stroke-linejoin="round"/>
<path d="M167.30,113.40 L167.60,113.40 L167.96,117.60 L168.31,121.80 L168.66,126.00 L169.00,130.20 L169.32,134.40 L169.63,138.60 L169.96,142.80 L170.33,147.00 L170.77,151.20 L171.28,155.40 L171.83,159.60 L172.41,163.80 L172.99,168.00 L173.59,172.20 L174.27,176.40 L175.11,180.60 L175.95,184.80 L176.74,189.00 L177.33,193.20 L177.82,197.40 L178.27,201.60 L178.71,205.80 L179.10,210.00 L179.45,214.20 L179.73,218.40 L179.88,222.60 L179.97,226.80 L179.99,231.00 L179.71,235.20 L179.21,239.40 L178.67,243.60 L177.99,247.80 L177.19,252.00 L176.43,256.20 L175.71,260.40 L174.98,264.60 L174.18,268.80 L173.28,273.00 L172.30,277.20 L167.30,277.20 Z" fill="#43CD80" fill-opacity="0.8" stroke="#222" stroke-width="0.55" stroke-linejoin="round"/>
<path d="M199.50,118.50 L199.80,118.50 L199.85,123.26 L199.91,128.03 L199.98,132.79 L200.06,137.56 L200.14,142.32 L200.22,147.08 L200.32,151.85 L200.48,156.61 L200.97,161.38 L201.74,166.14 L202.30,170.91 L202.86,175.67 L203.57,180.43 L204.33,185.20 L204.99,189.96 L205.65,194.73 L206.31,199.49 L207.49,204.25 L209.04,209.02 L210.25,213.78 L211.22,218.55 L211.94,223.31 L212.27,228.07 L212.48,232.84 L212.60,237.60 L212.66,242.37 L212.69,247.13 L212.65,251.89 L212.17,256.66 L211.41,261.42 L210.63,266.19 L209.77,270.95 L208.78,275.72 L207.74,280.48 L206.61,285.24 L205.39,290.01 L204.14,294.77 L202.88,299.54 L201.60,304.30 L199.50,304.30 Z" fill="#9ACD32" fill-opacity="0.8" stroke="#222" stroke-width="0.55" stroke-linejoin="round"/>
<path d="M232.30,113.80 L232.50,113.80 L232.53,118.52 L232.56,123.24 L232.59,127.95 L232.63,132.67 L232.68,137.39 L232.72,142.11 L232.76,146.83 L232.80,151.54 L232.88,156.26 L233.19,160.98 L233.80,165.70 L234.27,170.42 L234.71,175.13 L235.19,179.85 L235.74,184.57 L236.55,189.29 L237.24,194.01 L237.73,198.72 L238.60,203.44 L239.91,208.16 L241.16,212.88 L242.25,217.59 L243.25,222.31 L244.13,227.03 L244.97,231.75 L245.60,236.47 L245.94,241.18 L246.10,245.90 L245.90,250.62 L245.43,255.34 L244.65,260.06 L243.81,264.77 L242.90,269.49 L241.91,274.21 L240.86,278.93 L239.73,283.65 L238.66,288.36 L237.65,293.08 L236.70,297.80 L232.30,297.80 Z" fill="#548B54" fill-opacity="0.8" stroke="#222" stroke-width="0.55" stroke-linejoin="round"/>
<path d="M264.30,115.30 L264.50,115.30 L264.51,120.25 L264.52,125.19 L264.55,130.14 L264.57,135.08 L264.60,140.03 L264.63,144.98 L264.66,149.92 L264.71,154.87 L264.77,159.82 L264.86,164.76 L265.11,169.71 L265.74,174.65 L266.31,179.60 L266.93,184.55 L267.72,189.49 L268.71,194.44 L270.14,199.38 L271.33,204.33 L272.40,209.28 L273.44,214.22 L274.44,219.17 L275.40,224.12 L276.35,229.06 L277.27,234.01 L277.95,238.95 L278.50,243.90 L278.69,248.85 L278.40,253.79 L277.80,258.74 L276.86,263.68 L276.00,268.63 L275.17,273.58 L274.25,278.52 L273.14,283.47 L271.81,288.42 L270.37,293.36 L268.90,298.31 L267.34,303.25 L265.70,308.20 L264.30,308.20 Z" fill="#CD6889" fill-opacity="0.8" stroke="#222" stroke-width="0.55" stroke-linejoin="round"/>
<line x1="67.3" x2="67.3" y1="87" y2="165" stroke="#555" stroke-width="0.7"/>
<line x1="67.3" x2="67.3" y1="220.5" y2="258" stroke="#555" stroke-width="0.7"/>
<rect x="65.5" y="165" width="3.40" height="55.50" fill="#4169E1" fill-opacity="0.8" stroke="#444" stroke-width="0.6"/>
<line x1="99.5" x2="99.5" y1="106" y2="164.4" stroke="#555" stroke-width="0.7"/>
<line x1="99.5" x2="99.5" y1="212.3" y2="268.2" stroke="#555" stroke-width="0.7"/>
<rect x="97.7" y="164.4" width="3.50" height="47.90" fill="#FF4500" fill-opacity="0.8" stroke="#444" stroke-width="0.6"/>
<line x1="131.9" x2="131.9" y1="166" y2="215.3" stroke="#555" stroke-width="0.7"/>
<line x1="131.9" x2="131.9" y1="257.6" y2="305.3" stroke="#555" stroke-width="0.7"/>
<rect x="130.2" y="215.3" width="3.30" height="42.30" fill="#F4A460" fill-opacity="0.8" stroke="#444" stroke-width="0.6"/>
<line x1="163.9" x2="163.9" y1="125.2" y2="193" stroke="#555" stroke-width="0.7"/>
<line x1="163.9" x2="163.9" y1="245.9" y2="277" stroke="#555" stroke-width="0.7"/>
<rect x="162.2" y="193" width="3.40" height="52.90" fill="#43CD80" fill-opacity="0.8" stroke="#444" stroke-width="0.6"/>
<line x1="196.3" x2="196.3" y1="167.5" y2="218.1" stroke="#555" stroke-width="0.7"/>
<line x1="196.3" x2="196.3" y1="261.7" y2="305" stroke="#555" stroke-width="0.7"/>
<rect x="194.4" y="218.1" width="3.60" height="43.60" fill="#9ACD32" fill-opacity="0.8" stroke="#444" stroke-width="0.6"/>
<line x1="228.8" x2="228.8" y1="168.5" y2="223.2" stroke="#555" stroke-width="0.7"/>
<line x1="228.8" x2="228.8" y1="264.3" y2="298.3" stroke="#555" stroke-width="0.7"/>
<rect x="227.1" y="223.2" width="3.50" height="41.10" fill="#548B54" fill-opacity="0.8" stroke="#444" stroke-width="0.6"/>
<line x1="261.1" x2="261.1" y1="185.1" y2="222.2" stroke="#555" stroke-width="0.7"/>
<line x1="261.1" x2="261.1" y1="268.8" y2="308.3" stroke="#555" stroke-width="0.7"/>
<rect x="259.2" y="222.2" width="3.70" height="46.60" fill="#CD6889" fill-opacity="0.8" stroke="#444" stroke-width="0.6"/>
<line x1="65.5" x2="68.9" y1="189.2" y2="189.2" stroke="#222" stroke-width="1.1"/>
<line x1="97.7" x2="101.2" y1="189.0" y2="189.0" stroke="#222" stroke-width="1.1"/>
<line x1="130.2" x2="133.5" y1="231.0" y2="231.0" stroke="#222" stroke-width="1.1"/>
<line x1="162.2" x2="165.6" y1="219.6" y2="219.6" stroke="#222" stroke-width="1.1"/>
<line x1="194.4" x2="198.0" y1="240.8" y2="240.8" stroke="#222" stroke-width="1.1"/>
<line x1="227.1" x2="230.6" y1="242.9" y2="242.9" stroke="#222" stroke-width="1.1"/>
<line x1="259.2" x2="262.9" y1="244.6" y2="244.6" stroke="#222" stroke-width="1.1"/>
<polyline points="67.2,187.5 99.5,187.1 131.9,232.8 164.0,217.2 196.3,239.0 228.8,241.1 261.1,242.9" fill="none" stroke="#111" stroke-width="0.8"/>
<circle cx="67.2" cy="187.5" r="1.5" fill="#fff" stroke="#111" stroke-width="0.6"/>
<circle cx="99.5" cy="187.1" r="1.5" fill="#fff" stroke="#111" stroke-width="0.6"/>
<circle cx="131.9" cy="232.8" r="1.5" fill="#fff" stroke="#111" stroke-width="0.6"/>
<circle cx="164.0" cy="217.2" r="1.5" fill="#fff" stroke="#111" stroke-width="0.6"/>
<circle cx="196.3" cy="239.0" r="1.5" fill="#fff" stroke="#111" stroke-width="0.6"/>
<circle cx="228.8" cy="241.1" r="1.5" fill="#fff" stroke="#111" stroke-width="0.6"/>
<circle cx="261.1" cy="242.9" r="1.5" fill="#fff" stroke="#111" stroke-width="0.6"/>
<rect x="48.3" y="43.0" width="232.2" height="319.5" fill="none" stroke="#9a9a9a" stroke-width="1.3"/>
<line x1="45.5" x2="48.3" y1="348.40" y2="348.40" stroke="#333" stroke-width="0.9"/>
<text x="44.4" y="352.80" font-size="12.4" text-anchor="end" fill="#1a1a1a" stroke="#1a1a1a" stroke-width="0.25">200</text>
<line x1="45.5" x2="48.3" y1="312.04" y2="312.04" stroke="#333" stroke-width="0.9"/>
<text x="44.4" y="316.44" font-size="12.4" text-anchor="end" fill="#1a1a1a" stroke="#1a1a1a" stroke-width="0.25">300</text>
<line x1="45.5" x2="48.3" y1="275.68" y2="275.68" stroke="#333" stroke-width="0.9"/>
<text x="44.4" y="280.08" font-size="12.4" text-anchor="end" fill="#1a1a1a" stroke="#1a1a1a" stroke-width="0.25">400</text>
<line x1="45.5" x2="48.3" y1="239.32" y2="239.32" stroke="#333" stroke-width="0.9"/>
<text x="44.4" y="243.72" font-size="12.4" text-anchor="end" fill="#1a1a1a" stroke="#1a1a1a" stroke-width="0.25">500</text>
<line x1="45.5" x2="48.3" y1="202.96" y2="202.96" stroke="#333" stroke-width="0.9"/>
<text x="44.4" y="207.36" font-size="12.4" text-anchor="end" fill="#1a1a1a" stroke="#1a1a1a" stroke-width="0.25">600</text>
<line x1="45.5" x2="48.3" y1="166.60" y2="166.60" stroke="#333" stroke-width="0.9"/>
<text x="44.4" y="171.00" font-size="12.4" text-anchor="end" fill="#1a1a1a" stroke="#1a1a1a" stroke-width="0.25">700</text>
<line x1="45.5" x2="48.3" y1="130.24" y2="130.24" stroke="#333" stroke-width="0.9"/>
<text x="44.4" y="134.64" font-size="12.4" text-anchor="end" fill="#1a1a1a" stroke="#1a1a1a" stroke-width="0.25">800</text>
<line x1="45.5" x2="48.3" y1="93.88" y2="93.88" stroke="#333" stroke-width="0.9"/>
<text x="44.4" y="98.28" font-size="12.4" text-anchor="end" fill="#1a1a1a" stroke="#1a1a1a" stroke-width="0.25">900</text>
<line x1="45.5" x2="48.3" y1="57.52" y2="57.52" stroke="#333" stroke-width="0.9"/>
<text x="44.4" y="61.92" font-size="12.4" text-anchor="end" fill="#1a1a1a" stroke="#1a1a1a" stroke-width="0.25">1000</text>
<line x1="67.30" x2="67.30" y1="362.5" y2="365.1" stroke="#333" stroke-width="0.9"/>
<text x="67.30" y="375.5" font-size="12.4" text-anchor="middle" fill="#1a1a1a" stroke="#1a1a1a" stroke-width="0.25">H</text>
<line x1="99.63" x2="99.63" y1="362.5" y2="365.1" stroke="#333" stroke-width="0.9"/>
<text x="99.63" y="375.5" font-size="12.4" text-anchor="middle" fill="#1a1a1a" stroke="#1a1a1a" stroke-width="0.25">I</text>
<line x1="131.96" x2="131.96" y1="362.5" y2="365.1" stroke="#333" stroke-width="0.9"/>
<text x="131.96" y="375.5" font-size="12.4" text-anchor="middle" fill="#1a1a1a" stroke="#1a1a1a" stroke-width="0.25">T</text>
<line x1="164.29" x2="164.29" y1="362.5" y2="365.1" stroke="#333" stroke-width="0.9"/>
<text x="164.29" y="375.5" font-size="12.4" text-anchor="middle" fill="#1a1a1a" stroke="#1a1a1a" stroke-width="0.25">HI</text>
<line x1="196.62" x2="196.62" y1="362.5" y2="365.1" stroke="#333" stroke-width="0.9"/>
<text x="196.62" y="375.5" font-size="12.4" text-anchor="middle" fill="#1a1a1a" stroke="#1a1a1a" stroke-width="0.25">HT</text>
<line x1="228.95" x2="228.95" y1="362.5" y2="365.1" stroke="#333" stroke-width="0.9"/>
<text x="228.95" y="375.5" font-size="12.4" text-anchor="middle" fill="#1a1a1a" stroke="#1a1a1a" stroke-width="0.25">IT</text>
<line x1="261.28" x2="261.28" y1="362.5" y2="365.1" stroke="#333" stroke-width="0.9"/>
<text x="261.28" y="375.5" font-size="12.4" text-anchor="middle" fill="#1a1a1a" stroke="#1a1a1a" stroke-width="0.25">HIT</text>
<text transform="translate(12.6,203) rotate(-90)" font-size="15" text-anchor="middle" fill="#111" stroke="#111" stroke-width="0.2">RT (ms)</text>
<text x="163.6" y="14" font-size="19.5" font-weight="bold" text-anchor="middle" fill="#000">Reaction times</text>
<text x="497.5" y="14" font-size="19.5" font-weight="bold" text-anchor="middle" fill="#000">Cumulative distribution functions</text>
<rect x="329.8" y="51.0" width="150.70" height="142.40" fill="#fff"/>
<line x1="344.26" x2="344.26" y1="51.0" y2="193.4" stroke="#eeeeee" stroke-width="0.7"/>
<line x1="359.48" x2="359.48" y1="51.0" y2="193.4" stroke="#eeeeee" stroke-width="0.7"/>
<line x1="374.71" x2="374.71" y1="51.0" y2="193.4" stroke="#eeeeee" stroke-width="0.7"/>
<line x1="389.93" x2="389.93" y1="51.0" y2="193.4" stroke="#eeeeee" stroke-width="0.7"/>
<line x1="405.15" x2="405.15" y1="51.0" y2="193.4" stroke="#eeeeee" stroke-width="0.7"/>
<line x1="420.37" x2="420.37" y1="51.0" y2="193.4" stroke="#eeeeee" stroke-width="0.7"/>
<line x1="435.59" x2="435.59" y1="51.0" y2="193.4" stroke="#eeeeee" stroke-width="0.7"/>
<line x1="450.82" x2="450.82" y1="51.0" y2="193.4" stroke="#eeeeee" stroke-width="0.7"/>
<line x1="466.04" x2="466.04" y1="51.0" y2="193.4" stroke="#eeeeee" stroke-width="0.7"/>
<line x1="329.8" x2="480.5" y1="180.45" y2="180.45" stroke="#eeeeee" stroke-width="0.7"/>
<line x1="329.8" x2="480.5" y1="167.51" y2="167.51" stroke="#eeeeee" stroke-width="0.7"/>
<line x1="329.8" x2="480.5" y1="154.56" y2="154.56" stroke="#eeeeee" stroke-width="0.7"/>
<line x1="329.8" x2="480.5" y1="141.62" y2="141.62" stroke="#eeeeee" stroke-width="0.7"/>
<line x1="329.8" x2="480.5" y1="128.67" y2="128.67" stroke="#eeeeee" stroke-width="0.7"/>
<line x1="329.8" x2="480.5" y1="115.73" y2="115.73" stroke="#eeeeee" stroke-width="0.7"/>
<line x1="329.8" x2="480.5" y1="102.78" y2="102.78" stroke="#eeeeee" stroke-width="0.7"/>
<line x1="329.8" x2="480.5" y1="89.84" y2="89.84" stroke="#eeeeee" stroke-width="0.7"/>
<line x1="329.8" x2="480.5" y1="76.89" y2="76.89" stroke="#eeeeee" stroke-width="0.7"/>
<line x1="329.8" x2="480.5" y1="63.95" y2="63.95" stroke="#eeeeee" stroke-width="0.7"/>
<line x1="336.65" x2="336.65" y1="51.0" y2="193.4" stroke="#ebebeb" stroke-width="0.7"/>
<line x1="351.87" x2="351.87" y1="51.0" y2="193.4" stroke="#ebebeb" stroke-width="0.7"/>
<line x1="367.09" x2="367.09" y1="51.0" y2="193.4" stroke="#ebebeb" stroke-width="0.7"/>
<line x1="382.32" x2="382.32" y1="51.0" y2="193.4" stroke="#ebebeb" stroke-width="0.7"/>
<line x1="397.54" x2="397.54" y1="51.0" y2="193.4" stroke="#ebebeb" stroke-width="0.7"/>
<line x1="412.76" x2="412.76" y1="51.0" y2="193.4" stroke="#ebebeb" stroke-width="0.7"/>
<line x1="427.98" x2="427.98" y1="51.0" y2="193.4" stroke="#ebebeb" stroke-width="0.7"/>
<line x1="443.21" x2="443.21" y1="51.0" y2="193.4" stroke="#ebebeb" stroke-width="0.7"/>
<line x1="458.43" x2="458.43" y1="51.0" y2="193.4" stroke="#ebebeb" stroke-width="0.7"/>
<line x1="473.65" x2="473.65" y1="51.0" y2="193.4" stroke="#ebebeb" stroke-width="0.7"/>
<line x1="329.8" x2="480.5" y1="186.93" y2="186.93" stroke="#ebebeb" stroke-width="0.7"/>
<line x1="329.8" x2="480.5" y1="173.98" y2="173.98" stroke="#ebebeb" stroke-width="0.7"/>
<line x1="329.8" x2="480.5" y1="161.04" y2="161.04" stroke="#ebebeb" stroke-width="0.7"/>
<line x1="329.8" x2="480.5" y1="148.09" y2="148.09" stroke="#ebebeb" stroke-width="0.7"/>
<line x1="329.8" x2="480.5" y1="135.15" y2="135.15" stroke="#ebebeb" stroke-width="0.7"/>
<line x1="329.8" x2="480.5" y1="122.20" y2="122.20" stroke="#ebebeb" stroke-width="0.7"/>
<line x1="329.8" x2="480.5" y1="109.25" y2="109.25" stroke="#ebebeb" stroke-width="0.7"/>
<line x1="329.8" x2="480.5" y1="96.31" y2="96.31" stroke="#ebebeb" stroke-width="0.7"/>
<line x1="329.8" x2="480.5" y1="83.36" y2="83.36" stroke="#ebebeb" stroke-width="0.7"/>
<line x1="329.8" x2="480.5" y1="70.42" y2="70.42" stroke="#ebebeb" stroke-width="0.7"/>
<line x1="329.8" x2="480.5" y1="57.47" y2="57.47" stroke="#ebebeb" stroke-width="0.7"/>
<polyline points="336.65,186.93 351.87,184.86 367.09,182.27 382.32,177.99 397.54,171.52 412.76,161.17 427.98,144.47 443.21,121.94 458.43,91.91 473.65,60.45" fill="none" stroke="#4169E1" stroke-opacity="0.75" stroke-width="0.75"/>
<polyline points="336.65,184.47 351.87,180.71 367.09,176.83 382.32,171.91 397.54,163.88 412.76,154.69 427.98,139.81 443.21,120.39 458.43,97.86 473.65,64.98" fill="none" stroke="#FF4500" stroke-opacity="0.75" stroke-width="0.75"/>
<polyline points="336.65,183.30 351.87,177.99 367.09,168.29 382.32,156.38 397.54,139.42 412.76,119.48 427.98,98.64 443.21,77.28 458.43,64.07 473.65,57.60" fill="none" stroke="#43CD80" stroke-opacity="0.75" stroke-width="0.75"/>
<polyline points="336.65,184.47 351.87,178.64 367.09,172.17 382.32,162.98 397.54,148.48 412.76,128.93 427.98,97.34" fill="none" stroke="#A28AF2" stroke-opacity="0.75" stroke-width="0.75"/>
<path d="M334.85,184.47 H338.45 M336.65,182.67 V186.27" stroke="#A28AF2" stroke-opacity="0.7" stroke-width="0.55" fill="none"/>
<path d="M350.07,178.64 H353.67 M351.87,176.84 V180.44" stroke="#A28AF2" stroke-opacity="0.7" stroke-width="0.55" fill="none"/>
<path d="M365.29,172.17 H368.89 M367.09,170.37 V173.97" stroke="#A28AF2" stroke-opacity="0.7" stroke-width="0.55" fill="none"/>
<path d="M380.52,162.98 H384.12 M382.32,161.18 V164.78" stroke="#A28AF2" stroke-opacity="0.7" stroke-width="0.55" fill="none"/>
<path d="M395.74,148.48 H399.34 M397.54,146.68 V150.28" stroke="#A28AF2" stroke-opacity="0.7" stroke-width="0.55" fill="none"/>
<path d="M410.96,128.93 H414.56 M412.76,127.13 V130.73" stroke="#A28AF2" stroke-opacity="0.7" stroke-width="0.55" fill="none"/>
<path d="M426.18,97.34 H429.78 M427.98,95.54 V99.14" stroke="#A28AF2" stroke-opacity="0.7" stroke-width="0.55" fill="none"/>
<circle cx="336.65" cy="186.93" r="1.55" fill="#4169E1"/>
<circle cx="351.87" cy="184.86" r="1.55" fill="#4169E1"/>
<circle cx="367.09" cy="182.27" r="1.55" fill="#4169E1"/>
<circle cx="382.32" cy="177.99" r="1.55" fill="#4169E1"/>
<circle cx="397.54" cy="171.52" r="1.55" fill="#4169E1"/>
<circle cx="412.76" cy="161.17" r="1.55" fill="#4169E1"/>
<circle cx="427.98" cy="144.47" r="1.55" fill="#4169E1"/>
<circle cx="443.21" cy="121.94" r="1.55" fill="#4169E1"/>
<circle cx="458.43" cy="91.91" r="1.55" fill="#4169E1"/>
<circle cx="473.65" cy="60.45" r="1.55" fill="#4169E1"/>
<path d="M336.65,182.57 L338.30,185.42 L335.00,185.42 Z" fill="#FF4500"/>
<path d="M351.87,178.81 L353.52,181.66 L350.23,181.66 Z" fill="#FF4500"/>
<path d="M367.09,174.93 L368.74,177.78 L365.45,177.78 Z" fill="#FF4500"/>
<path d="M382.32,170.01 L383.96,172.86 L380.67,172.86 Z" fill="#FF4500"/>
<path d="M397.54,161.98 L399.18,164.83 L395.89,164.83 Z" fill="#FF4500"/>
<path d="M412.76,152.79 L414.41,155.64 L411.12,155.64 Z" fill="#FF4500"/>
<path d="M427.98,137.91 L429.63,140.76 L426.34,140.76 Z" fill="#FF4500"/>
<path d="M443.21,118.49 L444.85,121.34 L441.56,121.34 Z" fill="#FF4500"/>
<path d="M458.43,95.96 L460.07,98.81 L456.78,98.81 Z" fill="#FF4500"/>
<path d="M473.65,63.08 L475.30,65.93 L472.00,65.93 Z" fill="#FF4500"/>
<rect x="335.20" y="181.85" width="2.90" height="2.90" fill="#43CD80"/>
<rect x="350.42" y="176.54" width="2.90" height="2.90" fill="#43CD80"/>
<rect x="365.64" y="166.84" width="2.90" height="2.90" fill="#43CD80"/>
<rect x="380.87" y="154.93" width="2.90" height="2.90" fill="#43CD80"/>
<rect x="396.09" y="137.97" width="2.90" height="2.90" fill="#43CD80"/>
<rect x="411.31" y="118.03" width="2.90" height="2.90" fill="#43CD80"/>
<rect x="426.53" y="97.19" width="2.90" height="2.90" fill="#43CD80"/>
<rect x="441.76" y="75.83" width="2.90" height="2.90" fill="#43CD80"/>
<rect x="456.98" y="62.62" width="2.90" height="2.90" fill="#43CD80"/>
<rect x="472.20" y="56.15" width="2.90" height="2.90" fill="#43CD80"/>
<line x1="431.30" x2="441.40" y1="156.30" y2="156.30" stroke="#4169E1" stroke-opacity="0.3" stroke-width="1.7"/>
<circle cx="436.35" cy="156.30" r="1.55" fill="#4169E1"/>
<text x="445.00" y="160.05" font-size="10.4" fill="#111" stroke="#111" stroke-width="0.3">H</text>
<line x1="431.30" x2="441.40" y1="165.75" y2="165.75" stroke="#FF4500" stroke-opacity="0.3" stroke-width="1.7"/>
<path d="M436.35,163.85 L438.00,166.70 L434.70,166.70 Z" fill="#FF4500"/>
<text x="445.00" y="169.50" font-size="10.4" fill="#111" stroke="#111" stroke-width="0.3">I</text>
<line x1="431.30" x2="441.40" y1="175.20" y2="175.20" stroke="#43CD80" stroke-opacity="0.3" stroke-width="1.7"/>
<rect x="434.90" y="173.75" width="2.90" height="2.90" fill="#43CD80"/>
<text x="445.00" y="178.95" font-size="10.4" fill="#111" stroke="#111" stroke-width="0.3">HI</text>
<line x1="431.30" x2="441.40" y1="184.65" y2="184.65" stroke="#A28AF2" stroke-opacity="0.3" stroke-width="1.7"/>
<path d="M434.55,184.65 H438.15 M436.35,182.85 V186.45" stroke="#A28AF2" stroke-opacity="0.7" stroke-width="0.55" fill="none"/>
<text x="445.00" y="188.40" font-size="10.4" fill="#111" stroke="#111" stroke-width="0.3">H+I</text>
<rect x="329.8" y="51.0" width="150.70" height="142.40" fill="none" stroke="#c4c4c4" stroke-width="1.2"/>
<line x1="328.60" x2="329.8" y1="186.93" y2="186.93" stroke="#444" stroke-width="0.5"/>
<text x="327.80" y="189.13" font-size="6.2" text-anchor="end" fill="#333" stroke="#333" stroke-width="0.25">0.0</text>
<line x1="328.60" x2="329.8" y1="173.98" y2="173.98" stroke="#444" stroke-width="0.5"/>
<text x="327.80" y="176.18" font-size="6.2" text-anchor="end" fill="#333" stroke="#333" stroke-width="0.25">0.1</text>
<line x1="328.60" x2="329.8" y1="161.04" y2="161.04" stroke="#444" stroke-width="0.5"/>
<text x="327.80" y="163.24" font-size="6.2" text-anchor="end" fill="#333" stroke="#333" stroke-width="0.25">0.2</text>
<line x1="328.60" x2="329.8" y1="148.09" y2="148.09" stroke="#444" stroke-width="0.5"/>
<text x="327.80" y="150.29" font-size="6.2" text-anchor="end" fill="#333" stroke="#333" stroke-width="0.25">0.3</text>
<line x1="328.60" x2="329.8" y1="135.15" y2="135.15" stroke="#444" stroke-width="0.5"/>
<text x="327.80" y="137.35" font-size="6.2" text-anchor="end" fill="#333" stroke="#333" stroke-width="0.25">0.4</text>
<line x1="328.60" x2="329.8" y1="122.20" y2="122.20" stroke="#444" stroke-width="0.5"/>
<text x="327.80" y="124.40" font-size="6.2" text-anchor="end" fill="#333" stroke="#333" stroke-width="0.25">0.5</text>
<line x1="328.60" x2="329.8" y1="109.25" y2="109.25" stroke="#444" stroke-width="0.5"/>
<text x="327.80" y="111.45" font-size="6.2" text-anchor="end" fill="#333" stroke="#333" stroke-width="0.25">0.6</text>
<line x1="328.60" x2="329.8" y1="96.31" y2="96.31" stroke="#444" stroke-width="0.5"/>
<text x="327.80" y="98.51" font-size="6.2" text-anchor="end" fill="#333" stroke="#333" stroke-width="0.25">0.7</text>
<line x1="328.60" x2="329.8" y1="83.36" y2="83.36" stroke="#444" stroke-width="0.5"/>
<text x="327.80" y="85.56" font-size="6.2" text-anchor="end" fill="#333" stroke="#333" stroke-width="0.25">0.8</text>
<line x1="328.60" x2="329.8" y1="70.42" y2="70.42" stroke="#444" stroke-width="0.5"/>
<text x="327.80" y="72.62" font-size="6.2" text-anchor="end" fill="#333" stroke="#333" stroke-width="0.25">0.9</text>
<line x1="328.60" x2="329.8" y1="57.47" y2="57.47" stroke="#444" stroke-width="0.5"/>
<text x="327.80" y="59.67" font-size="6.2" text-anchor="end" fill="#333" stroke="#333" stroke-width="0.25">1.0</text>
<line x1="336.65" x2="336.65" y1="193.4" y2="194.60" stroke="#444" stroke-width="0.5"/>
<text x="336.65" y="199.90" font-size="6.2" text-anchor="middle" fill="#333" stroke="#333" stroke-width="0.25">1</text>
<line x1="351.87" x2="351.87" y1="193.4" y2="194.60" stroke="#444" stroke-width="0.5"/>
<text x="351.87" y="199.90" font-size="6.2" text-anchor="middle" fill="#333" stroke="#333" stroke-width="0.25">2</text>
<line x1="367.09" x2="367.09" y1="193.4" y2="194.60" stroke="#444" stroke-width="0.5"/>
<text x="367.09" y="199.90" font-size="6.2" text-anchor="middle" fill="#333" stroke="#333" stroke-width="0.25">3</text>
<line x1="382.32" x2="382.32" y1="193.4" y2="194.60" stroke="#444" stroke-width="0.5"/>
<text x="382.32" y="199.90" font-size="6.2" text-anchor="middle" fill="#333" stroke="#333" stroke-width="0.25">4</text>
<line x1="397.54" x2="397.54" y1="193.4" y2="194.60" stroke="#444" stroke-width="0.5"/>
<text x="397.54" y="199.90" font-size="6.2" text-anchor="middle" fill="#333" stroke="#333" stroke-width="0.25">5</text>
<line x1="412.76" x2="412.76" y1="193.4" y2="194.60" stroke="#444" stroke-width="0.5"/>
<text x="412.76" y="199.90" font-size="6.2" text-anchor="middle" fill="#333" stroke="#333" stroke-width="0.25">6</text>
<line x1="427.98" x2="427.98" y1="193.4" y2="194.60" stroke="#444" stroke-width="0.5"/>
<text x="427.98" y="199.90" font-size="6.2" text-anchor="middle" fill="#333" stroke="#333" stroke-width="0.25">7</text>
<line x1="443.21" x2="443.21" y1="193.4" y2="194.60" stroke="#444" stroke-width="0.5"/>
<text x="443.21" y="199.90" font-size="6.2" text-anchor="middle" fill="#333" stroke="#333" stroke-width="0.25">8</text>
<line x1="458.43" x2="458.43" y1="193.4" y2="194.60" stroke="#444" stroke-width="0.5"/>
<text x="458.43" y="199.90" font-size="6.2" text-anchor="middle" fill="#333" stroke="#333" stroke-width="0.25">9</text>
<line x1="473.65" x2="473.65" y1="193.4" y2="194.60" stroke="#444" stroke-width="0.5"/>
<text x="473.65" y="199.90" font-size="6.2" text-anchor="middle" fill="#333" stroke="#333" stroke-width="0.25">10</text>
<text x="405.15" y="207.50" font-size="7.4" text-anchor="middle" fill="#111" stroke="#111" stroke-width="0.15">RT [bins]</text>
<text transform="translate(316.50,121.70) rotate(-90)" font-size="7.6" text-anchor="middle" fill="#111" stroke="#111" stroke-width="0.15">CDF [%]</text>
<text x="395.80" y="43.00" font-size="15.4" textLength="120.94" lengthAdjust="spacingAndGlyphs" text-anchor="middle" fill="#111" stroke="#111" stroke-width="0.2">Double deviant: HI</text>
<rect x="534.4" y="51.0" width="149.80" height="142.40" fill="#fff"/>
<line x1="548.77" x2="548.77" y1="51.0" y2="193.4" stroke="#eeeeee" stroke-width="0.7"/>
<line x1="563.91" x2="563.91" y1="51.0" y2="193.4" stroke="#eeeeee" stroke-width="0.7"/>
<line x1="579.04" x2="579.04" y1="51.0" y2="193.4" stroke="#eeeeee" stroke-width="0.7"/>
<line x1="594.17" x2="594.17" y1="51.0" y2="193.4" stroke="#eeeeee" stroke-width="0.7"/>
<line x1="609.30" x2="609.30" y1="51.0" y2="193.4" stroke="#eeeeee" stroke-width="0.7"/>
<line x1="624.43" x2="624.43" y1="51.0" y2="193.4" stroke="#eeeeee" stroke-width="0.7"/>
<line x1="639.56" x2="639.56" y1="51.0" y2="193.4" stroke="#eeeeee" stroke-width="0.7"/>
<line x1="654.69" x2="654.69" y1="51.0" y2="193.4" stroke="#eeeeee" stroke-width="0.7"/>
<line x1="669.83" x2="669.83" y1="51.0" y2="193.4" stroke="#eeeeee" stroke-width="0.7"/>
<line x1="534.4" x2="684.2" y1="180.45" y2="180.45" stroke="#eeeeee" stroke-width="0.7"/>
<line x1="534.4" x2="684.2" y1="167.51" y2="167.51" stroke="#eeeeee" stroke-width="0.7"/>
<line x1="534.4" x2="684.2" y1="154.56" y2="154.56" stroke="#eeeeee" stroke-width="0.7"/>
<line x1="534.4" x2="684.2" y1="141.62" y2="141.62" stroke="#eeeeee" stroke-width="0.7"/>
<line x1="534.4" x2="684.2" y1="128.67" y2="128.67" stroke="#eeeeee" stroke-width="0.7"/>
<line x1="534.4" x2="684.2" y1="115.73" y2="115.73" stroke="#eeeeee" stroke-width="0.7"/>
<line x1="534.4" x2="684.2" y1="102.78" y2="102.78" stroke="#eeeeee" stroke-width="0.7"/>
<line x1="534.4" x2="684.2" y1="89.84" y2="89.84" stroke="#eeeeee" stroke-width="0.7"/>
<line x1="534.4" x2="684.2" y1="76.89" y2="76.89" stroke="#eeeeee" stroke-width="0.7"/>
<line x1="534.4" x2="684.2" y1="63.95" y2="63.95" stroke="#eeeeee" stroke-width="0.7"/>
<line x1="541.21" x2="541.21" y1="51.0" y2="193.4" stroke="#ebebeb" stroke-width="0.7"/>
<line x1="556.34" x2="556.34" y1="51.0" y2="193.4" stroke="#ebebeb" stroke-width="0.7"/>
<line x1="571.47" x2="571.47" y1="51.0" y2="193.4" stroke="#ebebeb" stroke-width="0.7"/>
<line x1="586.60" x2="586.60" y1="51.0" y2="193.4" stroke="#ebebeb" stroke-width="0.7"/>
<line x1="601.73" x2="601.73" y1="51.0" y2="193.4" stroke="#ebebeb" stroke-width="0.7"/>
<line x1="616.87" x2="616.87" y1="51.0" y2="193.4" stroke="#ebebeb" stroke-width="0.7"/>
<line x1="632.00" x2="632.00" y1="51.0" y2="193.4" stroke="#ebebeb" stroke-width="0.7"/>
<line x1="647.13" x2="647.13" y1="51.0" y2="193.4" stroke="#ebebeb" stroke-width="0.7"/>
<line x1="662.26" x2="662.26" y1="51.0" y2="193.4" stroke="#ebebeb" stroke-width="0.7"/>
<line x1="677.39" x2="677.39" y1="51.0" y2="193.4" stroke="#ebebeb" stroke-width="0.7"/>
<line x1="534.4" x2="684.2" y1="186.93" y2="186.93" stroke="#ebebeb" stroke-width="0.7"/>
<line x1="534.4" x2="684.2" y1="173.98" y2="173.98" stroke="#ebebeb" stroke-width="0.7"/>
<line x1="534.4" x2="684.2" y1="161.04" y2="161.04" stroke="#ebebeb" stroke-width="0.7"/>
<line x1="534.4" x2="684.2" y1="148.09" y2="148.09" stroke="#ebebeb" stroke-width="0.7"/>
<line x1="534.4" x2="684.2" y1="135.15" y2="135.15" stroke="#ebebeb" stroke-width="0.7"/>
<line x1="534.4" x2="684.2" y1="122.20" y2="122.20" stroke="#ebebeb" stroke-width="0.7"/>
<line x1="534.4" x2="684.2" y1="109.25" y2="109.25" stroke="#ebebeb" stroke-width="0.7"/>
<line x1="534.4" x2="684.2" y1="96.31" y2="96.31" stroke="#ebebeb" stroke-width="0.7"/>
<line x1="534.4" x2="684.2" y1="83.36" y2="83.36" stroke="#ebebeb" stroke-width="0.7"/>
<line x1="534.4" x2="684.2" y1="70.42" y2="70.42" stroke="#ebebeb" stroke-width="0.7"/>
<line x1="534.4" x2="684.2" y1="57.47" y2="57.47" stroke="#ebebeb" stroke-width="0.7"/>
<polyline points="541.21,186.93 556.34,184.86 571.47,182.27 586.60,177.99 601.73,171.52 616.87,161.17 632.00,144.47 647.13,121.94 662.26,91.91 677.39,60.45" fill="none" stroke="#4169E1" stroke-opacity="0.75" stroke-width="0.75"/>
<polyline points="541.21,170.10 556.34,152.62 571.47,136.57 586.60,120.78 601.73,106.28 616.87,91.13 632.00,79.35 647.13,69.64 662.26,62.39 677.39,57.47" fill="none" stroke="#F4A460" stroke-opacity="0.75" stroke-width="0.75"/>
<polyline points="541.21,165.83 556.34,147.70 571.47,130.36 586.60,111.20 601.73,94.50 616.87,81.29 632.00,70.94 647.13,64.59 662.26,60.32 677.39,57.47" fill="none" stroke="#9ACD32" stroke-opacity="0.75" stroke-width="0.75"/>
<polyline points="541.21,170.10 556.34,150.55 571.47,131.91 586.60,111.84 601.73,90.87 616.87,65.37" fill="none" stroke="#A28AF2" stroke-opacity="0.75" stroke-width="0.75"/>
<path d="M539.41,170.10 H543.01 M541.21,168.30 V171.90" stroke="#A28AF2" stroke-opacity="0.7" stroke-width="0.55" fill="none"/>
<path d="M554.54,150.55 H558.14 M556.34,148.75 V152.35" stroke="#A28AF2" stroke-opacity="0.7" stroke-width="0.55" fill="none"/>
<path d="M569.67,131.91 H573.27 M571.47,130.11 V133.71" stroke="#A28AF2" stroke-opacity="0.7" stroke-width="0.55" fill="none"/>
<path d="M584.80,111.84 H588.40 M586.60,110.04 V113.64" stroke="#A28AF2" stroke-opacity="0.7" stroke-width="0.55" fill="none"/>
<path d="M599.93,90.87 H603.53 M601.73,89.07 V92.67" stroke="#A28AF2" stroke-opacity="0.7" stroke-width="0.55" fill="none"/>
<path d="M615.07,65.37 H618.67 M616.87,63.57 V67.17" stroke="#A28AF2" stroke-opacity="0.7" stroke-width="0.55" fill="none"/>
<circle cx="541.21" cy="186.93" r="1.55" fill="#4169E1"/>
<circle cx="556.34" cy="184.86" r="1.55" fill="#4169E1"/>
<circle cx="571.47" cy="182.27" r="1.55" fill="#4169E1"/>
<circle cx="586.60" cy="177.99" r="1.55" fill="#4169E1"/>
<circle cx="601.73" cy="171.52" r="1.55" fill="#4169E1"/>
<circle cx="616.87" cy="161.17" r="1.55" fill="#4169E1"/>
<circle cx="632.00" cy="144.47" r="1.55" fill="#4169E1"/>
<circle cx="647.13" cy="121.94" r="1.55" fill="#4169E1"/>
<circle cx="662.26" cy="91.91" r="1.55" fill="#4169E1"/>
<circle cx="677.39" cy="60.45" r="1.55" fill="#4169E1"/>
<path d="M541.21,168.20 L542.85,171.05 L539.56,171.05 Z" fill="#F4A460"/>
<path d="M556.34,150.72 L557.99,153.57 L554.70,153.57 Z" fill="#F4A460"/>
<path d="M571.47,134.67 L573.12,137.52 L569.83,137.52 Z" fill="#F4A460"/>
<path d="M586.60,118.88 L588.25,121.73 L584.96,121.73 Z" fill="#F4A460"/>
<path d="M601.73,104.38 L603.38,107.23 L600.09,107.23 Z" fill="#F4A460"/>
<path d="M616.87,89.23 L618.51,92.08 L615.22,92.08 Z" fill="#F4A460"/>
<path d="M632.00,77.45 L633.64,80.30 L630.35,80.30 Z" fill="#F4A460"/>
<path d="M647.13,67.74 L648.77,70.59 L645.48,70.59 Z" fill="#F4A460"/>
<path d="M662.26,60.49 L663.90,63.34 L660.61,63.34 Z" fill="#F4A460"/>
<path d="M677.39,55.57 L679.04,58.42 L675.75,58.42 Z" fill="#F4A460"/>
<rect x="539.76" y="164.38" width="2.90" height="2.90" fill="#9ACD32"/>
<rect x="554.89" y="146.25" width="2.90" height="2.90" fill="#9ACD32"/>
<rect x="570.02" y="128.91" width="2.90" height="2.90" fill="#9ACD32"/>
<rect x="585.15" y="109.75" width="2.90" height="2.90" fill="#9ACD32"/>
<rect x="600.28" y="93.05" width="2.90" height="2.90" fill="#9ACD32"/>
<rect x="615.42" y="79.84" width="2.90" height="2.90" fill="#9ACD32"/>
<rect x="630.55" y="69.49" width="2.90" height="2.90" fill="#9ACD32"/>
<rect x="645.68" y="63.14" width="2.90" height="2.90" fill="#9ACD32"/>
<rect x="660.81" y="58.87" width="2.90" height="2.90" fill="#9ACD32"/>
<rect x="675.94" y="56.02" width="2.90" height="2.90" fill="#9ACD32"/>
<line x1="633.80" x2="643.90" y1="156.30" y2="156.30" stroke="#4169E1" stroke-opacity="0.3" stroke-width="1.7"/>
<circle cx="638.85" cy="156.30" r="1.55" fill="#4169E1"/>
<text x="647.20" y="160.05" font-size="10.4" fill="#111" stroke="#111" stroke-width="0.3">H</text>
<line x1="633.80" x2="643.90" y1="165.75" y2="165.75" stroke="#F4A460" stroke-opacity="0.3" stroke-width="1.7"/>
<path d="M638.85,163.85 L640.50,166.70 L637.20,166.70 Z" fill="#F4A460"/>
<text x="647.20" y="169.50" font-size="10.4" fill="#111" stroke="#111" stroke-width="0.3">T</text>
<line x1="633.80" x2="643.90" y1="175.20" y2="175.20" stroke="#9ACD32" stroke-opacity="0.3" stroke-width="1.7"/>
<rect x="637.40" y="173.75" width="2.90" height="2.90" fill="#9ACD32"/>
<text x="647.20" y="178.95" font-size="10.4" fill="#111" stroke="#111" stroke-width="0.3">HT</text>
<line x1="633.80" x2="643.90" y1="184.65" y2="184.65" stroke="#A28AF2" stroke-opacity="0.3" stroke-width="1.7"/>
<path d="M637.05,184.65 H640.65 M638.85,182.85 V186.45" stroke="#A28AF2" stroke-opacity="0.7" stroke-width="0.55" fill="none"/>
<text x="647.20" y="188.40" font-size="10.4" fill="#111" stroke="#111" stroke-width="0.3">H+T</text>
<rect x="534.4" y="51.0" width="149.80" height="142.40" fill="none" stroke="#c4c4c4" stroke-width="1.2"/>
<line x1="533.20" x2="534.4" y1="186.93" y2="186.93" stroke="#444" stroke-width="0.5"/>
<text x="532.40" y="189.13" font-size="6.2" text-anchor="end" fill="#333" stroke="#333" stroke-width="0.25">0.0</text>
<line x1="533.20" x2="534.4" y1="173.98" y2="173.98" stroke="#444" stroke-width="0.5"/>
<text x="532.40" y="176.18" font-size="6.2" text-anchor="end" fill="#333" stroke="#333" stroke-width="0.25">0.1</text>
<line x1="533.20" x2="534.4" y1="161.04" y2="161.04" stroke="#444" stroke-width="0.5"/>
<text x="532.40" y="163.24" font-size="6.2" text-anchor="end" fill="#333" stroke="#333" stroke-width="0.25">0.2</text>
<line x1="533.20" x2="534.4" y1="148.09" y2="148.09" stroke="#444" stroke-width="0.5"/>
<text x="532.40" y="150.29" font-size="6.2" text-anchor="end" fill="#333" stroke="#333" stroke-width="0.25">0.3</text>
<line x1="533.20" x2="534.4" y1="135.15" y2="135.15" stroke="#444" stroke-width="0.5"/>
<text x="532.40" y="137.35" font-size="6.2" text-anchor="end" fill="#333" stroke="#333" stroke-width="0.25">0.4</text>
<line x1="533.20" x2="534.4" y1="122.20" y2="122.20" stroke="#444" stroke-width="0.5"/>
<text x="532.40" y="124.40" font-size="6.2" text-anchor="end" fill="#333" stroke="#333" stroke-width="0.25">0.5</text>
<line x1="533.20" x2="534.4" y1="109.25" y2="109.25" stroke="#444" stroke-width="0.5"/>
<text x="532.40" y="111.45" font-size="6.2" text-anchor="end" fill="#333" stroke="#333" stroke-width="0.25">0.6</text>
<line x1="533.20" x2="534.4" y1="96.31" y2="96.31" stroke="#444" stroke-width="0.5"/>
<text x="532.40" y="98.51" font-size="6.2" text-anchor="end" fill="#333" stroke="#333" stroke-width="0.25">0.7</text>
<line x1="533.20" x2="534.4" y1="83.36" y2="83.36" stroke="#444" stroke-width="0.5"/>
<text x="532.40" y="85.56" font-size="6.2" text-anchor="end" fill="#333" stroke="#333" stroke-width="0.25">0.8</text>
<line x1="533.20" x2="534.4" y1="70.42" y2="70.42" stroke="#444" stroke-width="0.5"/>
<text x="532.40" y="72.62" font-size="6.2" text-anchor="end" fill="#333" stroke="#333" stroke-width="0.25">0.9</text>
<line x1="533.20" x2="534.4" y1="57.47" y2="57.47" stroke="#444" stroke-width="0.5"/>
<text x="532.40" y="59.67" font-size="6.2" text-anchor="end" fill="#333" stroke="#333" stroke-width="0.25">1.0</text>
<line x1="541.21" x2="541.21" y1="193.4" y2="194.60" stroke="#444" stroke-width="0.5"/>
<text x="541.21" y="199.90" font-size="6.2" text-anchor="middle" fill="#333" stroke="#333" stroke-width="0.25">1</text>
<line x1="556.34" x2="556.34" y1="193.4" y2="194.60" stroke="#444" stroke-width="0.5"/>
<text x="556.34" y="199.90" font-size="6.2" text-anchor="middle" fill="#333" stroke="#333" stroke-width="0.25">2</text>
<line x1="571.47" x2="571.47" y1="193.4" y2="194.60" stroke="#444" stroke-width="0.5"/>
<text x="571.47" y="199.90" font-size="6.2" text-anchor="middle" fill="#333" stroke="#333" stroke-width="0.25">3</text>
<line x1="586.60" x2="586.60" y1="193.4" y2="194.60" stroke="#444" stroke-width="0.5"/>
<text x="586.60" y="199.90" font-size="6.2" text-anchor="middle" fill="#333" stroke="#333" stroke-width="0.25">4</text>
<line x1="601.73" x2="601.73" y1="193.4" y2="194.60" stroke="#444" stroke-width="0.5"/>
<text x="601.73" y="199.90" font-size="6.2" text-anchor="middle" fill="#333" stroke="#333" stroke-width="0.25">5</text>
<line x1="616.87" x2="616.87" y1="193.4" y2="194.60" stroke="#444" stroke-width="0.5"/>
<text x="616.87" y="199.90" font-size="6.2" text-anchor="middle" fill="#333" stroke="#333" stroke-width="0.25">6</text>
<line x1="632.00" x2="632.00" y1="193.4" y2="194.60" stroke="#444" stroke-width="0.5"/>
<text x="632.00" y="199.90" font-size="6.2" text-anchor="middle" fill="#333" stroke="#333" stroke-width="0.25">7</text>
<line x1="647.13" x2="647.13" y1="193.4" y2="194.60" stroke="#444" stroke-width="0.5"/>
<text x="647.13" y="199.90" font-size="6.2" text-anchor="middle" fill="#333" stroke="#333" stroke-width="0.25">8</text>
<line x1="662.26" x2="662.26" y1="193.4" y2="194.60" stroke="#444" stroke-width="0.5"/>
<text x="662.26" y="199.90" font-size="6.2" text-anchor="middle" fill="#333" stroke="#333" stroke-width="0.25">9</text>
<line x1="677.39" x2="677.39" y1="193.4" y2="194.60" stroke="#444" stroke-width="0.5"/>
<text x="677.39" y="199.90" font-size="6.2" text-anchor="middle" fill="#333" stroke="#333" stroke-width="0.25">10</text>
<text x="609.30" y="207.50" font-size="7.4" text-anchor="middle" fill="#111" stroke="#111" stroke-width="0.15">RT [bins]</text>
<text transform="translate(521.10,121.70) rotate(-90)" font-size="7.6" text-anchor="middle" fill="#111" stroke="#111" stroke-width="0.15">CDF [%]</text>
<text x="599.80" y="43.00" font-size="15.4" textLength="125.83" lengthAdjust="spacingAndGlyphs" text-anchor="middle" fill="#111" stroke="#111" stroke-width="0.2">Double deviant: HT</text>
<rect x="329.8" y="238.5" width="150.70" height="142.30" fill="#fff"/>
<line x1="344.26" x2="344.26" y1="238.5" y2="380.8" stroke="#eeeeee" stroke-width="0.7"/>
<line x1="359.48" x2="359.48" y1="238.5" y2="380.8" stroke="#eeeeee" stroke-width="0.7"/>
<line x1="374.71" x2="374.71" y1="238.5" y2="380.8" stroke="#eeeeee" stroke-width="0.7"/>
<line x1="389.93" x2="389.93" y1="238.5" y2="380.8" stroke="#eeeeee" stroke-width="0.7"/>
<line x1="405.15" x2="405.15" y1="238.5" y2="380.8" stroke="#eeeeee" stroke-width="0.7"/>
<line x1="420.37" x2="420.37" y1="238.5" y2="380.8" stroke="#eeeeee" stroke-width="0.7"/>
<line x1="435.59" x2="435.59" y1="238.5" y2="380.8" stroke="#eeeeee" stroke-width="0.7"/>
<line x1="450.82" x2="450.82" y1="238.5" y2="380.8" stroke="#eeeeee" stroke-width="0.7"/>
<line x1="466.04" x2="466.04" y1="238.5" y2="380.8" stroke="#eeeeee" stroke-width="0.7"/>
<line x1="329.8" x2="480.5" y1="367.86" y2="367.86" stroke="#eeeeee" stroke-width="0.7"/>
<line x1="329.8" x2="480.5" y1="354.93" y2="354.93" stroke="#eeeeee" stroke-width="0.7"/>
<line x1="329.8" x2="480.5" y1="341.99" y2="341.99" stroke="#eeeeee" stroke-width="0.7"/>
<line x1="329.8" x2="480.5" y1="329.05" y2="329.05" stroke="#eeeeee" stroke-width="0.7"/>
<line x1="329.8" x2="480.5" y1="316.12" y2="316.12" stroke="#eeeeee" stroke-width="0.7"/>
<line x1="329.8" x2="480.5" y1="303.18" y2="303.18" stroke="#eeeeee" stroke-width="0.7"/>
<line x1="329.8" x2="480.5" y1="290.25" y2="290.25" stroke="#eeeeee" stroke-width="0.7"/>
<line x1="329.8" x2="480.5" y1="277.31" y2="277.31" stroke="#eeeeee" stroke-width="0.7"/>
<line x1="329.8" x2="480.5" y1="264.37" y2="264.37" stroke="#eeeeee" stroke-width="0.7"/>
<line x1="329.8" x2="480.5" y1="251.44" y2="251.44" stroke="#eeeeee" stroke-width="0.7"/>
<line x1="336.65" x2="336.65" y1="238.5" y2="380.8" stroke="#ebebeb" stroke-width="0.7"/>
<line x1="351.87" x2="351.87" y1="238.5" y2="380.8" stroke="#ebebeb" stroke-width="0.7"/>
<line x1="367.09" x2="367.09" y1="238.5" y2="380.8" stroke="#ebebeb" stroke-width="0.7"/>
<line x1="382.32" x2="382.32" y1="238.5" y2="380.8" stroke="#ebebeb" stroke-width="0.7"/>
<line x1="397.54" x2="397.54" y1="238.5" y2="380.8" stroke="#ebebeb" stroke-width="0.7"/>
<line x1="412.76" x2="412.76" y1="238.5" y2="380.8" stroke="#ebebeb" stroke-width="0.7"/>
<line x1="427.98" x2="427.98" y1="238.5" y2="380.8" stroke="#ebebeb" stroke-width="0.7"/>
<line x1="443.21" x2="443.21" y1="238.5" y2="380.8" stroke="#ebebeb" stroke-width="0.7"/>
<line x1="458.43" x2="458.43" y1="238.5" y2="380.8" stroke="#ebebeb" stroke-width="0.7"/>
<line x1="473.65" x2="473.65" y1="238.5" y2="380.8" stroke="#ebebeb" stroke-width="0.7"/>
<line x1="329.8" x2="480.5" y1="374.33" y2="374.33" stroke="#ebebeb" stroke-width="0.7"/>
<line x1="329.8" x2="480.5" y1="361.40" y2="361.40" stroke="#ebebeb" stroke-width="0.7"/>
<line x1="329.8" x2="480.5" y1="348.46" y2="348.46" stroke="#ebebeb" stroke-width="0.7"/>
<line x1="329.8" x2="480.5" y1="335.52" y2="335.52" stroke="#ebebeb" stroke-width="0.7"/>
<line x1="329.8" x2="480.5" y1="322.59" y2="322.59" stroke="#ebebeb" stroke-width="0.7"/>
<line x1="329.8" x2="480.5" y1="309.65" y2="309.65" stroke="#ebebeb" stroke-width="0.7"/>
<line x1="329.8" x2="480.5" y1="296.71" y2="296.71" stroke="#ebebeb" stroke-width="0.7"/>
<line x1="329.8" x2="480.5" y1="283.78" y2="283.78" stroke="#ebebeb" stroke-width="0.7"/>
<line x1="329.8" x2="480.5" y1="270.84" y2="270.84" stroke="#ebebeb" stroke-width="0.7"/>
<line x1="329.8" x2="480.5" y1="257.90" y2="257.90" stroke="#ebebeb" stroke-width="0.7"/>
<line x1="329.8" x2="480.5" y1="244.97" y2="244.97" stroke="#ebebeb" stroke-width="0.7"/>
<polyline points="336.65,371.87 351.87,368.12 367.09,364.24 382.32,359.33 397.54,351.31 412.76,342.12 427.98,327.24 443.21,307.84 458.43,285.33 473.65,252.47" fill="none" stroke="#FF4500" stroke-opacity="0.75" stroke-width="0.75"/>
<polyline points="336.65,357.51 351.87,340.05 367.09,324.01 382.32,308.23 397.54,293.74 412.76,278.60 427.98,266.83 443.21,257.13 458.43,249.88 473.65,244.97" fill="none" stroke="#F4A460" stroke-opacity="0.75" stroke-width="0.75"/>
<polyline points="336.65,350.92 351.87,329.96 367.09,310.94 382.32,291.93 397.54,277.05 412.76,266.05 427.98,258.94 443.21,251.95 458.43,247.68 473.65,244.97" fill="none" stroke="#548B54" stroke-opacity="0.75" stroke-width="0.75"/>
<polyline points="336.65,355.06 351.87,333.84 367.09,313.92 382.32,293.22 397.54,270.71 412.76,246.39" fill="none" stroke="#A28AF2" stroke-opacity="0.75" stroke-width="0.75"/>
<path d="M334.85,355.06 H338.45 M336.65,353.26 V356.86" stroke="#A28AF2" stroke-opacity="0.7" stroke-width="0.55" fill="none"/>
<path d="M350.07,333.84 H353.67 M351.87,332.04 V335.64" stroke="#A28AF2" stroke-opacity="0.7" stroke-width="0.55" fill="none"/>
<path d="M365.29,313.92 H368.89 M367.09,312.12 V315.72" stroke="#A28AF2" stroke-opacity="0.7" stroke-width="0.55" fill="none"/>
<path d="M380.52,293.22 H384.12 M382.32,291.42 V295.02" stroke="#A28AF2" stroke-opacity="0.7" stroke-width="0.55" fill="none"/>
<path d="M395.74,270.71 H399.34 M397.54,268.91 V272.51" stroke="#A28AF2" stroke-opacity="0.7" stroke-width="0.55" fill="none"/>
<path d="M410.96,246.39 H414.56 M412.76,244.59 V248.19" stroke="#A28AF2" stroke-opacity="0.7" stroke-width="0.55" fill="none"/>
<circle cx="336.65" cy="371.87" r="1.55" fill="#FF4500"/>
<circle cx="351.87" cy="368.12" r="1.55" fill="#FF4500"/>
<circle cx="367.09" cy="364.24" r="1.55" fill="#FF4500"/>
<circle cx="382.32" cy="359.33" r="1.55" fill="#FF4500"/>
<circle cx="397.54" cy="351.31" r="1.55" fill="#FF4500"/>
<circle cx="412.76" cy="342.12" r="1.55" fill="#FF4500"/>
<circle cx="427.98" cy="327.24" r="1.55" fill="#FF4500"/>
<circle cx="443.21" cy="307.84" r="1.55" fill="#FF4500"/>
<circle cx="458.43" cy="285.33" r="1.55" fill="#FF4500"/>
<circle cx="473.65" cy="252.47" r="1.55" fill="#FF4500"/>
<path d="M336.65,355.61 L338.30,358.46 L335.00,358.46 Z" fill="#F4A460"/>
<path d="M351.87,338.15 L353.52,341.00 L350.23,341.00 Z" fill="#F4A460"/>
<path d="M367.09,322.11 L368.74,324.96 L365.45,324.96 Z" fill="#F4A460"/>
<path d="M382.32,306.33 L383.96,309.18 L380.67,309.18 Z" fill="#F4A460"/>
<path d="M397.54,291.84 L399.18,294.69 L395.89,294.69 Z" fill="#F4A460"/>
<path d="M412.76,276.70 L414.41,279.55 L411.12,279.55 Z" fill="#F4A460"/>
<path d="M427.98,264.93 L429.63,267.78 L426.34,267.78 Z" fill="#F4A460"/>
<path d="M443.21,255.23 L444.85,258.08 L441.56,258.08 Z" fill="#F4A460"/>
<path d="M458.43,247.98 L460.07,250.83 L456.78,250.83 Z" fill="#F4A460"/>
<path d="M473.65,243.07 L475.30,245.92 L472.00,245.92 Z" fill="#F4A460"/>
<rect x="335.20" y="349.47" width="2.90" height="2.90" fill="#548B54"/>
<rect x="350.42" y="328.51" width="2.90" height="2.90" fill="#548B54"/>
<rect x="365.64" y="309.49" width="2.90" height="2.90" fill="#548B54"/>
<rect x="380.87" y="290.48" width="2.90" height="2.90" fill="#548B54"/>
<rect x="396.09" y="275.60" width="2.90" height="2.90" fill="#548B54"/>
<rect x="411.31" y="264.60" width="2.90" height="2.90" fill="#548B54"/>
<rect x="426.53" y="257.49" width="2.90" height="2.90" fill="#548B54"/>
<rect x="441.76" y="250.50" width="2.90" height="2.90" fill="#548B54"/>
<rect x="456.98" y="246.23" width="2.90" height="2.90" fill="#548B54"/>
<rect x="472.20" y="243.52" width="2.90" height="2.90" fill="#548B54"/>
<line x1="432.00" x2="442.10" y1="344.00" y2="344.00" stroke="#FF4500" stroke-opacity="0.3" stroke-width="1.7"/>
<circle cx="437.05" cy="344.00" r="1.55" fill="#FF4500"/>
<text x="445.10" y="347.75" font-size="10.4" fill="#111" stroke="#111" stroke-width="0.3">I</text>
<line x1="432.00" x2="442.10" y1="353.45" y2="353.45" stroke="#F4A460" stroke-opacity="0.3" stroke-width="1.7"/>
<path d="M437.05,351.55 L438.70,354.40 L435.40,354.40 Z" fill="#F4A460"/>
<text x="445.10" y="357.20" font-size="10.4" fill="#111" stroke="#111" stroke-width="0.3">T</text>
<line x1="432.00" x2="442.10" y1="362.90" y2="362.90" stroke="#548B54" stroke-opacity="0.3" stroke-width="1.7"/>
<rect x="435.60" y="361.45" width="2.90" height="2.90" fill="#548B54"/>
<text x="445.10" y="366.65" font-size="10.4" fill="#111" stroke="#111" stroke-width="0.3">IT</text>
<line x1="432.00" x2="442.10" y1="372.35" y2="372.35" stroke="#A28AF2" stroke-opacity="0.3" stroke-width="1.7"/>
<path d="M435.25,372.35 H438.85 M437.05,370.55 V374.15" stroke="#A28AF2" stroke-opacity="0.7" stroke-width="0.55" fill="none"/>
<text x="445.10" y="376.10" font-size="10.4" fill="#111" stroke="#111" stroke-width="0.3">I+T</text>
<rect x="329.8" y="238.5" width="150.70" height="142.30" fill="none" stroke="#c4c4c4" stroke-width="1.2"/>
<line x1="328.60" x2="329.8" y1="374.33" y2="374.33" stroke="#444" stroke-width="0.5"/>
<text x="327.80" y="376.53" font-size="6.2" text-anchor="end" fill="#333" stroke="#333" stroke-width="0.25">0.0</text>
<line x1="328.60" x2="329.8" y1="361.40" y2="361.40" stroke="#444" stroke-width="0.5"/>
<text x="327.80" y="363.60" font-size="6.2" text-anchor="end" fill="#333" stroke="#333" stroke-width="0.25">0.1</text>
<line x1="328.60" x2="329.8" y1="348.46" y2="348.46" stroke="#444" stroke-width="0.5"/>
<text x="327.80" y="350.66" font-size="6.2" text-anchor="end" fill="#333" stroke="#333" stroke-width="0.25">0.2</text>
<line x1="328.60" x2="329.8" y1="335.52" y2="335.52" stroke="#444" stroke-width="0.5"/>
<text x="327.80" y="337.72" font-size="6.2" text-anchor="end" fill="#333" stroke="#333" stroke-width="0.25">0.3</text>
<line x1="328.60" x2="329.8" y1="322.59" y2="322.59" stroke="#444" stroke-width="0.5"/>
<text x="327.80" y="324.79" font-size="6.2" text-anchor="end" fill="#333" stroke="#333" stroke-width="0.25">0.4</text>
<line x1="328.60" x2="329.8" y1="309.65" y2="309.65" stroke="#444" stroke-width="0.5"/>
<text x="327.80" y="311.85" font-size="6.2" text-anchor="end" fill="#333" stroke="#333" stroke-width="0.25">0.5</text>
<line x1="328.60" x2="329.8" y1="296.71" y2="296.71" stroke="#444" stroke-width="0.5"/>
<text x="327.80" y="298.91" font-size="6.2" text-anchor="end" fill="#333" stroke="#333" stroke-width="0.25">0.6</text>
<line x1="328.60" x2="329.8" y1="283.78" y2="283.78" stroke="#444" stroke-width="0.5"/>
<text x="327.80" y="285.98" font-size="6.2" text-anchor="end" fill="#333" stroke="#333" stroke-width="0.25">0.7</text>
<line x1="328.60" x2="329.8" y1="270.84" y2="270.84" stroke="#444" stroke-width="0.5"/>
<text x="327.80" y="273.04" font-size="6.2" text-anchor="end" fill="#333" stroke="#333" stroke-width="0.25">0.8</text>
<line x1="328.60" x2="329.8" y1="257.90" y2="257.90" stroke="#444" stroke-width="0.5"/>
<text x="327.80" y="260.10" font-size="6.2" text-anchor="end" fill="#333" stroke="#333" stroke-width="0.25">0.9</text>
<line x1="328.60" x2="329.8" y1="244.97" y2="244.97" stroke="#444" stroke-width="0.5"/>
<text x="327.80" y="247.17" font-size="6.2" text-anchor="end" fill="#333" stroke="#333" stroke-width="0.25">1.0</text>
<line x1="336.65" x2="336.65" y1="380.8" y2="382.00" stroke="#444" stroke-width="0.5"/>
<text x="336.65" y="387.30" font-size="6.2" text-anchor="middle" fill="#333" stroke="#333" stroke-width="0.25">1</text>
<line x1="351.87" x2="351.87" y1="380.8" y2="382.00" stroke="#444" stroke-width="0.5"/>
<text x="351.87" y="387.30" font-size="6.2" text-anchor="middle" fill="#333" stroke="#333" stroke-width="0.25">2</text>
<line x1="367.09" x2="367.09" y1="380.8" y2="382.00" stroke="#444" stroke-width="0.5"/>
<text x="367.09" y="387.30" font-size="6.2" text-anchor="middle" fill="#333" stroke="#333" stroke-width="0.25">3</text>
<line x1="382.32" x2="382.32" y1="380.8" y2="382.00" stroke="#444" stroke-width="0.5"/>
<text x="382.32" y="387.30" font-size="6.2" text-anchor="middle" fill="#333" stroke="#333" stroke-width="0.25">4</text>
<line x1="397.54" x2="397.54" y1="380.8" y2="382.00" stroke="#444" stroke-width="0.5"/>
<text x="397.54" y="387.30" font-size="6.2" text-anchor="middle" fill="#333" stroke="#333" stroke-width="0.25">5</text>
<line x1="412.76" x2="412.76" y1="380.8" y2="382.00" stroke="#444" stroke-width="0.5"/>
<text x="412.76" y="387.30" font-size="6.2" text-anchor="middle" fill="#333" stroke="#333" stroke-width="0.25">6</text>
<line x1="427.98" x2="427.98" y1="380.8" y2="382.00" stroke="#444" stroke-width="0.5"/>
<text x="427.98" y="387.30" font-size="6.2" text-anchor="middle" fill="#333" stroke="#333" stroke-width="0.25">7</text>
<line x1="443.21" x2="443.21" y1="380.8" y2="382.00" stroke="#444" stroke-width="0.5"/>
<text x="443.21" y="387.30" font-size="6.2" text-anchor="middle" fill="#333" stroke="#333" stroke-width="0.25">8</text>
<line x1="458.43" x2="458.43" y1="380.8" y2="382.00" stroke="#444" stroke-width="0.5"/>
<text x="458.43" y="387.30" font-size="6.2" text-anchor="middle" fill="#333" stroke="#333" stroke-width="0.25">9</text>
<line x1="473.65" x2="473.65" y1="380.8" y2="382.00" stroke="#444" stroke-width="0.5"/>
<text x="473.65" y="387.30" font-size="6.2" text-anchor="middle" fill="#333" stroke="#333" stroke-width="0.25">10</text>
<text x="405.15" y="394.90" font-size="7.4" text-anchor="middle" fill="#111" stroke="#111" stroke-width="0.15">RT [bins]</text>
<text transform="translate(316.50,309.15) rotate(-90)" font-size="7.6" text-anchor="middle" fill="#111" stroke="#111" stroke-width="0.15">CDF [%]</text>
<text x="395.80" y="230.50" font-size="15.4" textLength="119.30" lengthAdjust="spacingAndGlyphs" text-anchor="middle" fill="#111" stroke="#111" stroke-width="0.2">Double deviant: IT</text>
<rect x="534.4" y="238.5" width="149.80" height="142.30" fill="#fff"/>
<line x1="548.77" x2="548.77" y1="238.5" y2="380.8" stroke="#eeeeee" stroke-width="0.7"/>
<line x1="563.91" x2="563.91" y1="238.5" y2="380.8" stroke="#eeeeee" stroke-width="0.7"/>
<line x1="579.04" x2="579.04" y1="238.5" y2="380.8" stroke="#eeeeee" stroke-width="0.7"/>
<line x1="594.17" x2="594.17" y1="238.5" y2="380.8" stroke="#eeeeee" stroke-width="0.7"/>
<line x1="609.30" x2="609.30" y1="238.5" y2="380.8" stroke="#eeeeee" stroke-width="0.7"/>
<line x1="624.43" x2="624.43" y1="238.5" y2="380.8" stroke="#eeeeee" stroke-width="0.7"/>
<line x1="639.56" x2="639.56" y1="238.5" y2="380.8" stroke="#eeeeee" stroke-width="0.7"/>
<line x1="654.69" x2="654.69" y1="238.5" y2="380.8" stroke="#eeeeee" stroke-width="0.7"/>
<line x1="669.83" x2="669.83" y1="238.5" y2="380.8" stroke="#eeeeee" stroke-width="0.7"/>
<line x1="534.4" x2="684.2" y1="367.86" y2="367.86" stroke="#eeeeee" stroke-width="0.7"/>
<line x1="534.4" x2="684.2" y1="354.93" y2="354.93" stroke="#eeeeee" stroke-width="0.7"/>
<line x1="534.4" x2="684.2" y1="341.99" y2="341.99" stroke="#eeeeee" stroke-width="0.7"/>
<line x1="534.4" x2="684.2" y1="329.05" y2="329.05" stroke="#eeeeee" stroke-width="0.7"/>
<line x1="534.4" x2="684.2" y1="316.12" y2="316.12" stroke="#eeeeee" stroke-width="0.7"/>
<line x1="534.4" x2="684.2" y1="303.18" y2="303.18" stroke="#eeeeee" stroke-width="0.7"/>
<line x1="534.4" x2="684.2" y1="290.25" y2="290.25" stroke="#eeeeee" stroke-width="0.7"/>
<line x1="534.4" x2="684.2" y1="277.31" y2="277.31" stroke="#eeeeee" stroke-width="0.7"/>
<line x1="534.4" x2="684.2" y1="264.37" y2="264.37" stroke="#eeeeee" stroke-width="0.7"/>
<line x1="534.4" x2="684.2" y1="251.44" y2="251.44" stroke="#eeeeee" stroke-width="0.7"/>
<line x1="541.21" x2="541.21" y1="238.5" y2="380.8" stroke="#ebebeb" stroke-width="0.7"/>
<line x1="556.34" x2="556.34" y1="238.5" y2="380.8" stroke="#ebebeb" stroke-width="0.7"/>
<line x1="571.47" x2="571.47" y1="238.5" y2="380.8" stroke="#ebebeb" stroke-width="0.7"/>
<line x1="586.60" x2="586.60" y1="238.5" y2="380.8" stroke="#ebebeb" stroke-width="0.7"/>
<line x1="601.73" x2="601.73" y1="238.5" y2="380.8" stroke="#ebebeb" stroke-width="0.7"/>
<line x1="616.87" x2="616.87" y1="238.5" y2="380.8" stroke="#ebebeb" stroke-width="0.7"/>
<line x1="632.00" x2="632.00" y1="238.5" y2="380.8" stroke="#ebebeb" stroke-width="0.7"/>
<line x1="647.13" x2="647.13" y1="238.5" y2="380.8" stroke="#ebebeb" stroke-width="0.7"/>
<line x1="662.26" x2="662.26" y1="238.5" y2="380.8" stroke="#ebebeb" stroke-width="0.7"/>
<line x1="677.39" x2="677.39" y1="238.5" y2="380.8" stroke="#ebebeb" stroke-width="0.7"/>
<line x1="534.4" x2="684.2" y1="374.33" y2="374.33" stroke="#ebebeb" stroke-width="0.7"/>
<line x1="534.4" x2="684.2" y1="361.40" y2="361.40" stroke="#ebebeb" stroke-width="0.7"/>
<line x1="534.4" x2="684.2" y1="348.46" y2="348.46" stroke="#ebebeb" stroke-width="0.7"/>
<line x1="534.4" x2="684.2" y1="335.52" y2="335.52" stroke="#ebebeb" stroke-width="0.7"/>
<line x1="534.4" x2="684.2" y1="322.59" y2="322.59" stroke="#ebebeb" stroke-width="0.7"/>
<line x1="534.4" x2="684.2" y1="309.65" y2="309.65" stroke="#ebebeb" stroke-width="0.7"/>
<line x1="534.4" x2="684.2" y1="296.71" y2="296.71" stroke="#ebebeb" stroke-width="0.7"/>
<line x1="534.4" x2="684.2" y1="283.78" y2="283.78" stroke="#ebebeb" stroke-width="0.7"/>
<line x1="534.4" x2="684.2" y1="270.84" y2="270.84" stroke="#ebebeb" stroke-width="0.7"/>
<line x1="534.4" x2="684.2" y1="257.90" y2="257.90" stroke="#ebebeb" stroke-width="0.7"/>
<line x1="534.4" x2="684.2" y1="244.97" y2="244.97" stroke="#ebebeb" stroke-width="0.7"/>
<polyline points="541.21,370.71 556.34,365.41 571.47,355.70 586.60,343.80 601.73,326.86 616.87,306.93 632.00,286.11 647.13,264.76 662.26,251.57 677.39,245.10" fill="none" stroke="#43CD80" stroke-opacity="0.75" stroke-width="0.75"/>
<polyline points="541.21,353.25 556.34,335.13 571.47,317.80 586.60,298.65 601.73,281.97 616.87,268.77 632.00,258.42 647.13,252.08 662.26,247.81 677.39,244.97" fill="none" stroke="#9ACD32" stroke-opacity="0.75" stroke-width="0.75"/>
<polyline points="541.21,350.92 556.34,329.96 571.47,310.94 586.60,291.93 601.73,277.05 616.87,266.05 632.00,258.94 647.13,251.95 662.26,247.68 677.39,244.97" fill="none" stroke="#548B54" stroke-opacity="0.75" stroke-width="0.75"/>
<polyline points="541.21,348.72 556.34,323.62 571.47,301.89 586.60,285.72 601.73,272.39 616.87,261.40 632.00,254.67 647.13,250.53 662.26,246.78 677.39,244.97" fill="none" stroke="#CD6889" stroke-opacity="0.75" stroke-width="0.75"/>
<polyline points="541.21,328.67 556.34,290.12 571.47,250.53" fill="none" stroke="#A28AF2" stroke-opacity="0.75" stroke-width="0.75"/>
<rect x="539.51" y="326.97" width="3.40" height="3.40" fill="#A28AF2" fill-opacity="0.2" stroke="#A28AF2" stroke-opacity="0.6" stroke-width="0.55"/><path d="M539.51,326.97 L542.91,330.37 M542.91,326.97 L539.51,330.37" stroke="#A28AF2" stroke-opacity="0.5" stroke-width="0.5"/>
<rect x="554.64" y="288.42" width="3.40" height="3.40" fill="#A28AF2" fill-opacity="0.2" stroke="#A28AF2" stroke-opacity="0.6" stroke-width="0.55"/><path d="M554.64,288.42 L558.04,291.82 M558.04,288.42 L554.64,291.82" stroke="#A28AF2" stroke-opacity="0.5" stroke-width="0.5"/>
<rect x="569.77" y="248.83" width="3.40" height="3.40" fill="#A28AF2" fill-opacity="0.2" stroke="#A28AF2" stroke-opacity="0.6" stroke-width="0.55"/><path d="M569.77,248.83 L573.17,252.23 M573.17,248.83 L569.77,252.23" stroke="#A28AF2" stroke-opacity="0.5" stroke-width="0.5"/>
<circle cx="541.21" cy="370.71" r="1.55" fill="#43CD80"/>
<circle cx="556.34" cy="365.41" r="1.55" fill="#43CD80"/>
<circle cx="571.47" cy="355.70" r="1.55" fill="#43CD80"/>
<circle cx="586.60" cy="343.80" r="1.55" fill="#43CD80"/>
<circle cx="601.73" cy="326.86" r="1.55" fill="#43CD80"/>
<circle cx="616.87" cy="306.93" r="1.55" fill="#43CD80"/>
<circle cx="632.00" cy="286.11" r="1.55" fill="#43CD80"/>
<circle cx="647.13" cy="264.76" r="1.55" fill="#43CD80"/>
<circle cx="662.26" cy="251.57" r="1.55" fill="#43CD80"/>
<circle cx="677.39" cy="245.10" r="1.55" fill="#43CD80"/>
<path d="M541.21,351.35 L542.85,354.20 L539.56,354.20 Z" fill="#9ACD32"/>
<path d="M556.34,333.23 L557.99,336.08 L554.70,336.08 Z" fill="#9ACD32"/>
<path d="M571.47,315.90 L573.12,318.75 L569.83,318.75 Z" fill="#9ACD32"/>
<path d="M586.60,296.75 L588.25,299.60 L584.96,299.60 Z" fill="#9ACD32"/>
<path d="M601.73,280.07 L603.38,282.92 L600.09,282.92 Z" fill="#9ACD32"/>
<path d="M616.87,266.87 L618.51,269.72 L615.22,269.72 Z" fill="#9ACD32"/>
<path d="M632.00,256.52 L633.64,259.37 L630.35,259.37 Z" fill="#9ACD32"/>
<path d="M647.13,250.18 L648.77,253.03 L645.48,253.03 Z" fill="#9ACD32"/>
<path d="M662.26,245.91 L663.90,248.76 L660.61,248.76 Z" fill="#9ACD32"/>
<path d="M677.39,243.07 L679.04,245.92 L675.75,245.92 Z" fill="#9ACD32"/>
<rect x="539.76" y="349.47" width="2.90" height="2.90" fill="#548B54"/>
<rect x="554.89" y="328.51" width="2.90" height="2.90" fill="#548B54"/>
<rect x="570.02" y="309.49" width="2.90" height="2.90" fill="#548B54"/>
<rect x="585.15" y="290.48" width="2.90" height="2.90" fill="#548B54"/>
<rect x="600.28" y="275.60" width="2.90" height="2.90" fill="#548B54"/>
<rect x="615.42" y="264.60" width="2.90" height="2.90" fill="#548B54"/>
<rect x="630.55" y="257.49" width="2.90" height="2.90" fill="#548B54"/>
<rect x="645.68" y="250.50" width="2.90" height="2.90" fill="#548B54"/>
<rect x="660.81" y="246.23" width="2.90" height="2.90" fill="#548B54"/>
<rect x="675.94" y="243.52" width="2.90" height="2.90" fill="#548B54"/>
<path d="M539.41,348.72 H543.01 M541.21,346.92 V350.52" stroke="#CD6889" stroke-opacity="0.7" stroke-width="0.55" fill="none"/>
<path d="M554.54,323.62 H558.14 M556.34,321.82 V325.42" stroke="#CD6889" stroke-opacity="0.7" stroke-width="0.55" fill="none"/>
<path d="M569.67,301.89 H573.27 M571.47,300.09 V303.69" stroke="#CD6889" stroke-opacity="0.7" stroke-width="0.55" fill="none"/>
<path d="M584.80,285.72 H588.40 M586.60,283.92 V287.52" stroke="#CD6889" stroke-opacity="0.7" stroke-width="0.55" fill="none"/>
<path d="M599.93,272.39 H603.53 M601.73,270.59 V274.19" stroke="#CD6889" stroke-opacity="0.7" stroke-width="0.55" fill="none"/>
<path d="M615.07,261.40 H618.67 M616.87,259.60 V263.20" stroke="#CD6889" stroke-opacity="0.7" stroke-width="0.55" fill="none"/>
<path d="M630.20,254.67 H633.80 M632.00,252.87 V256.47" stroke="#CD6889" stroke-opacity="0.7" stroke-width="0.55" fill="none"/>
<path d="M645.33,250.53 H648.93 M647.13,248.73 V252.33" stroke="#CD6889" stroke-opacity="0.7" stroke-width="0.55" fill="none"/>
<path d="M660.46,246.78 H664.06 M662.26,244.98 V248.58" stroke="#CD6889" stroke-opacity="0.7" stroke-width="0.55" fill="none"/>
<path d="M675.59,244.97 H679.19 M677.39,243.17 V246.77" stroke="#CD6889" stroke-opacity="0.7" stroke-width="0.55" fill="none"/>
<line x1="603.80" x2="613.90" y1="336.80" y2="336.80" stroke="#43CD80" stroke-opacity="0.3" stroke-width="1.7"/>
<circle cx="608.85" cy="336.80" r="1.55" fill="#43CD80"/>
<text x="617.10" y="340.55" font-size="10.4" fill="#111" stroke="#111" stroke-width="0.3">HI</text>
<line x1="603.80" x2="613.90" y1="346.25" y2="346.25" stroke="#9ACD32" stroke-opacity="0.3" stroke-width="1.7"/>
<path d="M608.85,344.35 L610.50,347.20 L607.20,347.20 Z" fill="#9ACD32"/>
<text x="617.10" y="350.00" font-size="10.4" fill="#111" stroke="#111" stroke-width="0.3">HT</text>
<line x1="603.80" x2="613.90" y1="355.70" y2="355.70" stroke="#548B54" stroke-opacity="0.3" stroke-width="1.7"/>
<rect x="607.40" y="354.25" width="2.90" height="2.90" fill="#548B54"/>
<text x="617.10" y="359.45" font-size="10.4" fill="#111" stroke="#111" stroke-width="0.3">IT</text>
<line x1="603.80" x2="613.90" y1="365.15" y2="365.15" stroke="#CD6889" stroke-opacity="0.3" stroke-width="1.7"/>
<path d="M607.05,365.15 H610.65 M608.85,363.35 V366.95" stroke="#CD6889" stroke-opacity="0.7" stroke-width="0.55" fill="none"/>
<text x="617.10" y="368.90" font-size="10.4" fill="#111" stroke="#111" stroke-width="0.3">HIT</text>
<line x1="603.80" x2="613.90" y1="374.60" y2="374.60" stroke="#A28AF2" stroke-opacity="0.3" stroke-width="1.7"/>
<rect x="607.15" y="372.90" width="3.40" height="3.40" fill="#A28AF2" fill-opacity="0.2" stroke="#A28AF2" stroke-opacity="0.6" stroke-width="0.55"/><path d="M607.15,372.90 L610.55,376.30 M610.55,372.90 L607.15,376.30" stroke="#A28AF2" stroke-opacity="0.5" stroke-width="0.5"/>
<text x="617.10" y="378.35" font-size="10.4" fill="#111" stroke="#111" stroke-width="0.3">HI+HT+IT-H-I</text>
<rect x="534.4" y="238.5" width="149.80" height="142.30" fill="none" stroke="#c4c4c4" stroke-width="1.2"/>
<line x1="533.20" x2="534.4" y1="374.33" y2="374.33" stroke="#444" stroke-width="0.5"/>
<text x="532.40" y="376.53" font-size="6.2" text-anchor="end" fill="#333" stroke="#333" stroke-width="0.25">0.0</text>
<line x1="533.20" x2="534.4" y1="361.40" y2="361.40" stroke="#444" stroke-width="0.5"/>
<text x="532.40" y="363.60" font-size="6.2" text-anchor="end" fill="#333" stroke="#333" stroke-width="0.25">0.1</text>
<line x1="533.20" x2="534.4" y1="348.46" y2="348.46" stroke="#444" stroke-width="0.5"/>
<text x="532.40" y="350.66" font-size="6.2" text-anchor="end" fill="#333" stroke="#333" stroke-width="0.25">0.2</text>
<line x1="533.20" x2="534.4" y1="335.52" y2="335.52" stroke="#444" stroke-width="0.5"/>
<text x="532.40" y="337.72" font-size="6.2" text-anchor="end" fill="#333" stroke="#333" stroke-width="0.25">0.3</text>
<line x1="533.20" x2="534.4" y1="322.59" y2="322.59" stroke="#444" stroke-width="0.5"/>
<text x="532.40" y="324.79" font-size="6.2" text-anchor="end" fill="#333" stroke="#333" stroke-width="0.25">0.4</text>
<line x1="533.20" x2="534.4" y1="309.65" y2="309.65" stroke="#444" stroke-width="0.5"/>
<text x="532.40" y="311.85" font-size="6.2" text-anchor="end" fill="#333" stroke="#333" stroke-width="0.25">0.5</text>
<line x1="533.20" x2="534.4" y1="296.71" y2="296.71" stroke="#444" stroke-width="0.5"/>
<text x="532.40" y="298.91" font-size="6.2" text-anchor="end" fill="#333" stroke="#333" stroke-width="0.25">0.6</text>
<line x1="533.20" x2="534.4" y1="283.78" y2="283.78" stroke="#444" stroke-width="0.5"/>
<text x="532.40" y="285.98" font-size="6.2" text-anchor="end" fill="#333" stroke="#333" stroke-width="0.25">0.7</text>
<line x1="533.20" x2="534.4" y1="270.84" y2="270.84" stroke="#444" stroke-width="0.5"/>
<text x="532.40" y="273.04" font-size="6.2" text-anchor="end" fill="#333" stroke="#333" stroke-width="0.25">0.8</text>
<line x1="533.20" x2="534.4" y1="257.90" y2="257.90" stroke="#444" stroke-width="0.5"/>
<text x="532.40" y="260.10" font-size="6.2" text-anchor="end" fill="#333" stroke="#333" stroke-width="0.25">0.9</text>
<line x1="533.20" x2="534.4" y1="244.97" y2="244.97" stroke="#444" stroke-width="0.5"/>
<text x="532.40" y="247.17" font-size="6.2" text-anchor="end" fill="#333" stroke="#333" stroke-width="0.25">1.0</text>
<line x1="541.21" x2="541.21" y1="380.8" y2="382.00" stroke="#444" stroke-width="0.5"/>
<text x="541.21" y="387.30" font-size="6.2" text-anchor="middle" fill="#333" stroke="#333" stroke-width="0.25">1</text>
<line x1="556.34" x2="556.34" y1="380.8" y2="382.00" stroke="#444" stroke-width="0.5"/>
<text x="556.34" y="387.30" font-size="6.2" text-anchor="middle" fill="#333" stroke="#333" stroke-width="0.25">2</text>
<line x1="571.47" x2="571.47" y1="380.8" y2="382.00" stroke="#444" stroke-width="0.5"/>
<text x="571.47" y="387.30" font-size="6.2" text-anchor="middle" fill="#333" stroke="#333" stroke-width="0.25">3</text>
<line x1="586.60" x2="586.60" y1="380.8" y2="382.00" stroke="#444" stroke-width="0.5"/>
<text x="586.60" y="387.30" font-size="6.2" text-anchor="middle" fill="#333" stroke="#333" stroke-width="0.25">4</text>
<line x1="601.73" x2="601.73" y1="380.8" y2="382.00" stroke="#444" stroke-width="0.5"/>
<text x="601.73" y="387.30" font-size="6.2" text-anchor="middle" fill="#333" stroke="#333" stroke-width="0.25">5</text>
<line x1="616.87" x2="616.87" y1="380.8" y2="382.00" stroke="#444" stroke-width="0.5"/>
<text x="616.87" y="387.30" font-size="6.2" text-anchor="middle" fill="#333" stroke="#333" stroke-width="0.25">6</text>
<line x1="632.00" x2="632.00" y1="380.8" y2="382.00" stroke="#444" stroke-width="0.5"/>
<text x="632.00" y="387.30" font-size="6.2" text-anchor="middle" fill="#333" stroke="#333" stroke-width="0.25">7</text>
<line x1="647.13" x2="647.13" y1="380.8" y2="382.00" stroke="#444" stroke-width="0.5"/>
<text x="647.13" y="387.30" font-size="6.2" text-anchor="middle" fill="#333" stroke="#333" stroke-width="0.25">8</text>
<line x1="662.26" x2="662.26" y1="380.8" y2="382.00" stroke="#444" stroke-width="0.5"/>
<text x="662.26" y="387.30" font-size="6.2" text-anchor="middle" fill="#333" stroke="#333" stroke-width="0.25">9</text>
<line x1="677.39" x2="677.39" y1="380.8" y2="382.00" stroke="#444" stroke-width="0.5"/>
<text x="677.39" y="387.30" font-size="6.2" text-anchor="middle" fill="#333" stroke="#333" stroke-width="0.25">10</text>
<text x="609.30" y="394.90" font-size="7.4" text-anchor="middle" fill="#111" stroke="#111" stroke-width="0.15">RT [bins]</text>
<text transform="translate(521.10,309.15) rotate(-90)" font-size="7.6" text-anchor="middle" fill="#111" stroke="#111" stroke-width="0.15">CDF [%]</text>
<text x="599.50" y="230.50" font-size="15.4" textLength="119.55" lengthAdjust="spacingAndGlyphs" text-anchor="middle" fill="#111" stroke="#111" stroke-width="0.2">Triple deviant: HIT</text></svg>
</body></html>
